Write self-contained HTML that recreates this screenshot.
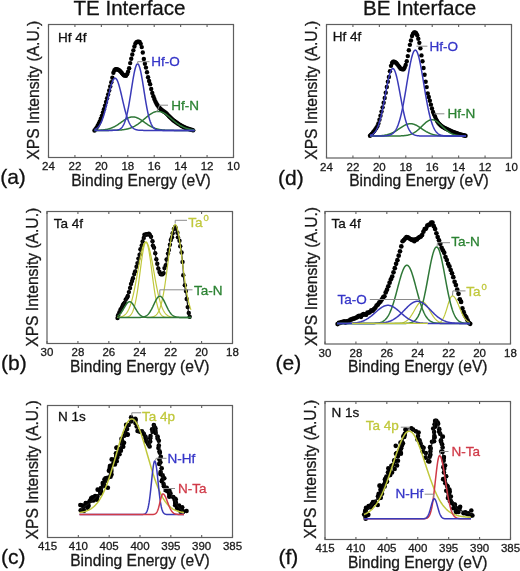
<!DOCTYPE html>
<html><head><meta charset="utf-8"><title>XPS TE/BE Interface</title>
<style>
html,body{margin:0;padding:0;background:#fff;}
body{width:520px;height:571px;overflow:hidden;}
svg{display:block;font-family:'Liberation Sans', Arial, sans-serif;}
</style></head><body>
<svg width="520" height="571" viewBox="0 0 520 571">
<rect width="520" height="571" fill="#fff"/>
<text x="73.4" y="15" font-size="20.6" fill="#111" stroke="#111" stroke-width="0.3" text-anchor="start">TE Interface</text>
<text x="363" y="15" font-size="20.6" fill="#111" stroke="#111" stroke-width="0.3" text-anchor="start">BE Interface</text>
<rect x="48.5" y="24.5" width="185" height="133" fill="none" stroke="#5e5e5e" stroke-width="1.2"/>
<line x1="48.5" y1="24.5" x2="48.5" y2="27" stroke="#5e5e5e" stroke-width="1.1"/>
<line x1="48.5" y1="157.5" x2="48.5" y2="155" stroke="#5e5e5e" stroke-width="1.1"/>
<text x="48.5" y="170.2" font-size="11.5" fill="#1a1a1a" stroke="#1a1a1a" stroke-width="0.3" text-anchor="middle">24</text>
<line x1="74.93" y1="24.5" x2="74.93" y2="27" stroke="#5e5e5e" stroke-width="1.1"/>
<line x1="74.93" y1="157.5" x2="74.93" y2="155" stroke="#5e5e5e" stroke-width="1.1"/>
<text x="74.93" y="170.2" font-size="11.5" fill="#1a1a1a" stroke="#1a1a1a" stroke-width="0.3" text-anchor="middle">22</text>
<line x1="101.36" y1="24.5" x2="101.36" y2="27" stroke="#5e5e5e" stroke-width="1.1"/>
<line x1="101.36" y1="157.5" x2="101.36" y2="155" stroke="#5e5e5e" stroke-width="1.1"/>
<text x="101.36" y="170.2" font-size="11.5" fill="#1a1a1a" stroke="#1a1a1a" stroke-width="0.3" text-anchor="middle">20</text>
<line x1="127.79" y1="24.5" x2="127.79" y2="27" stroke="#5e5e5e" stroke-width="1.1"/>
<line x1="127.79" y1="157.5" x2="127.79" y2="155" stroke="#5e5e5e" stroke-width="1.1"/>
<text x="127.79" y="170.2" font-size="11.5" fill="#1a1a1a" stroke="#1a1a1a" stroke-width="0.3" text-anchor="middle">18</text>
<line x1="154.21" y1="24.5" x2="154.21" y2="27" stroke="#5e5e5e" stroke-width="1.1"/>
<line x1="154.21" y1="157.5" x2="154.21" y2="155" stroke="#5e5e5e" stroke-width="1.1"/>
<text x="154.21" y="170.2" font-size="11.5" fill="#1a1a1a" stroke="#1a1a1a" stroke-width="0.3" text-anchor="middle">16</text>
<line x1="180.64" y1="24.5" x2="180.64" y2="27" stroke="#5e5e5e" stroke-width="1.1"/>
<line x1="180.64" y1="157.5" x2="180.64" y2="155" stroke="#5e5e5e" stroke-width="1.1"/>
<text x="180.64" y="170.2" font-size="11.5" fill="#1a1a1a" stroke="#1a1a1a" stroke-width="0.3" text-anchor="middle">14</text>
<line x1="207.07" y1="24.5" x2="207.07" y2="27" stroke="#5e5e5e" stroke-width="1.1"/>
<line x1="207.07" y1="157.5" x2="207.07" y2="155" stroke="#5e5e5e" stroke-width="1.1"/>
<text x="207.07" y="170.2" font-size="11.5" fill="#1a1a1a" stroke="#1a1a1a" stroke-width="0.3" text-anchor="middle">12</text>
<line x1="233.5" y1="24.5" x2="233.5" y2="27" stroke="#5e5e5e" stroke-width="1.1"/>
<line x1="233.5" y1="157.5" x2="233.5" y2="155" stroke="#5e5e5e" stroke-width="1.1"/>
<text x="233.5" y="170.2" font-size="11.5" fill="#1a1a1a" stroke="#1a1a1a" stroke-width="0.3" text-anchor="middle">10</text>
<text x="141" y="185.5" font-size="15.6" fill="#1a1a1a" stroke="#1a1a1a" stroke-width="0.3" text-anchor="middle">Binding Energy (eV)</text>
<text transform="translate(38.9,90.2) rotate(-90) scale(1,1.08)" font-size="15.65" fill="#1a1a1a" stroke="#1a1a1a" stroke-width="0.3" text-anchor="middle">XPS Intensity (A.U.)</text>
<text x="0.2" y="183.5" font-size="21" fill="#111" stroke="#111" stroke-width="0.3" text-anchor="start">(a)</text>
<text x="58" y="42" font-size="13.5" fill="#111" stroke="#111" stroke-width="0.3" text-anchor="start">Hf 4f</text>
<circle cx="94.5" cy="130.5" r="2.2"/>
<circle cx="95.55" cy="129.2" r="2.2"/>
<circle cx="96.6" cy="127.62" r="2.2"/>
<circle cx="97.65" cy="125.82" r="2.2"/>
<circle cx="98.7" cy="123.81" r="2.2"/>
<circle cx="99.75" cy="121.43" r="2.2"/>
<circle cx="100.8" cy="118.76" r="2.2"/>
<circle cx="101.85" cy="115.85" r="2.2"/>
<circle cx="102.9" cy="112.57" r="2.2"/>
<circle cx="103.95" cy="109.16" r="2.2"/>
<circle cx="105" cy="105.62" r="2.2"/>
<circle cx="106.05" cy="101.97" r="2.2"/>
<circle cx="107.1" cy="98.29" r="2.2"/>
<circle cx="108.15" cy="94.5" r="2.2"/>
<circle cx="109.2" cy="90.53" r="2.2"/>
<circle cx="110.25" cy="86.4" r="2.2"/>
<circle cx="111.3" cy="82.23" r="2.2"/>
<circle cx="112.35" cy="77.81" r="2.2"/>
<circle cx="113.4" cy="72.78" r="2.2"/>
<circle cx="114.45" cy="70.32" r="2.2"/>
<circle cx="115.5" cy="69.2" r="2.2"/>
<circle cx="116.55" cy="69.3" r="2.2"/>
<circle cx="117.6" cy="69.56" r="2.2"/>
<circle cx="118.65" cy="69.92" r="2.2"/>
<circle cx="119.7" cy="70.69" r="2.2"/>
<circle cx="120.75" cy="71.82" r="2.2"/>
<circle cx="121.8" cy="73" r="2.2"/>
<circle cx="122.85" cy="74.37" r="2.2"/>
<circle cx="123.9" cy="75.25" r="2.2"/>
<circle cx="124.95" cy="75.66" r="2.2"/>
<circle cx="126" cy="75.74" r="2.2"/>
<circle cx="127.05" cy="74.15" r="2.2"/>
<circle cx="128.1" cy="71.71" r="2.2"/>
<circle cx="129.15" cy="68.21" r="2.2"/>
<circle cx="130.2" cy="63.12" r="2.2"/>
<circle cx="131.25" cy="58.77" r="2.2"/>
<circle cx="132.3" cy="54.53" r="2.2"/>
<circle cx="133.35" cy="50.34" r="2.2"/>
<circle cx="134.4" cy="46.57" r="2.2"/>
<circle cx="135.45" cy="43.45" r="2.2"/>
<circle cx="136.5" cy="42.09" r="2.2"/>
<circle cx="137.55" cy="41.6" r="2.2"/>
<circle cx="138.6" cy="41.6" r="2.2"/>
<circle cx="139.65" cy="41.95" r="2.2"/>
<circle cx="140.7" cy="43.86" r="2.2"/>
<circle cx="141.75" cy="47.11" r="2.2"/>
<circle cx="142.8" cy="52.54" r="2.2"/>
<circle cx="143.85" cy="58.94" r="2.2"/>
<circle cx="144.9" cy="63.69" r="2.2"/>
<circle cx="145.95" cy="67.59" r="2.2"/>
<circle cx="147" cy="72.28" r="2.2"/>
<circle cx="148.05" cy="77.29" r="2.2"/>
<circle cx="149.1" cy="81" r="2.2"/>
<circle cx="150.15" cy="84.28" r="2.2"/>
<circle cx="151.2" cy="88.94" r="2.2"/>
<circle cx="152.25" cy="92.91" r="2.2"/>
<circle cx="153.3" cy="96.21" r="2.2"/>
<circle cx="154.35" cy="99.04" r="2.2"/>
<circle cx="155.4" cy="101.46" r="2.2"/>
<circle cx="156.45" cy="103.57" r="2.2"/>
<circle cx="157.5" cy="105.3" r="2.2"/>
<circle cx="158.55" cy="106.74" r="2.2"/>
<circle cx="159.6" cy="107.98" r="2.2"/>
<circle cx="160.65" cy="109.06" r="2.2"/>
<circle cx="161.7" cy="109.98" r="2.2"/>
<circle cx="162.75" cy="110.75" r="2.2"/>
<circle cx="163.8" cy="111.46" r="2.2"/>
<circle cx="164.85" cy="112.17" r="2.2"/>
<circle cx="165.9" cy="112.97" r="2.2"/>
<circle cx="166.95" cy="113.94" r="2.2"/>
<circle cx="168" cy="115.09" r="2.2"/>
<circle cx="169.05" cy="116.25" r="2.2"/>
<circle cx="170.1" cy="117.29" r="2.2"/>
<circle cx="171.15" cy="118.3" r="2.2"/>
<circle cx="172.2" cy="119.28" r="2.2"/>
<circle cx="173.25" cy="120.19" r="2.2"/>
<circle cx="174.3" cy="121.03" r="2.2"/>
<circle cx="175.35" cy="121.81" r="2.2"/>
<circle cx="176.4" cy="122.54" r="2.2"/>
<circle cx="177.45" cy="123.23" r="2.2"/>
<circle cx="178.5" cy="123.91" r="2.2"/>
<circle cx="179.55" cy="124.58" r="2.2"/>
<circle cx="180.6" cy="125.25" r="2.2"/>
<circle cx="181.65" cy="125.89" r="2.2"/>
<circle cx="182.7" cy="126.49" r="2.2"/>
<circle cx="183.75" cy="127.02" r="2.2"/>
<circle cx="184.8" cy="127.5" r="2.2"/>
<circle cx="185.85" cy="127.93" r="2.2"/>
<circle cx="186.9" cy="128.33" r="2.2"/>
<circle cx="187.95" cy="128.71" r="2.2"/>
<circle cx="189" cy="129.07" r="2.2"/>
<circle cx="190.05" cy="129.41" r="2.2"/>
<circle cx="191.1" cy="129.74" r="2.2"/>
<circle cx="192.15" cy="130.05" r="2.2"/>
<circle cx="193.2" cy="130.34" r="2.2"/>
<polyline points="94.5,130.35 94.92,130.34 95.34,130.33 95.76,130.32 96.17,130.32 96.59,130.31 97.01,130.29 97.43,130.28 97.85,130.27 98.27,130.25 98.68,130.23 99.1,130.22 99.52,130.19 99.94,130.17 100.36,130.15 100.78,130.12 101.19,130.09 101.61,130.06 102.03,130.02 102.45,129.99 102.87,129.94 103.29,129.9 103.71,129.85 104.12,129.8 104.54,129.74 104.96,129.68 105.38,129.61 105.8,129.54 106.22,129.47 106.63,129.39 107.05,129.3 107.47,129.21 107.89,129.11 108.31,129 108.73,128.89 109.14,128.77 109.56,128.65 109.98,128.51 110.4,128.37 110.82,128.23 111.24,128.07 111.65,127.91 112.07,127.74 112.49,127.56 112.91,127.37 113.33,127.18 113.75,126.98 114.17,126.77 114.58,126.55 115,126.32 115.42,126.09 115.84,125.85 116.26,125.6 116.68,125.35 117.09,125.09 117.51,124.82 117.93,124.55 118.35,124.27 118.77,123.99 119.19,123.7 119.6,123.41 120.02,123.12 120.44,122.82 120.86,122.53 121.28,122.23 121.7,121.93 122.12,121.63 122.53,121.34 122.95,121.04 123.37,120.75 123.79,120.47 124.21,120.19 124.63,119.91 125.04,119.65 125.46,119.39 125.88,119.14 126.3,118.89 126.72,118.66 127.14,118.44 127.55,118.23 127.97,118.04 128.39,117.86 128.81,117.69 129.23,117.54 129.65,117.4 130.06,117.28 130.48,117.17 130.9,117.08 131.32,117.01 131.74,116.96 132.16,116.92 132.58,116.9 132.99,116.9 133.41,116.92 133.83,116.95 134.25,117.01 134.67,117.08 135.09,117.16 135.5,117.27 135.92,117.39 136.34,117.53 136.76,117.68 137.18,117.84 137.6,118.02 138.01,118.22 138.43,118.43 138.85,118.65 139.27,118.88 139.69,119.12 140.11,119.37 140.53,119.63 140.94,119.89 141.36,120.17 141.78,120.45 142.2,120.73 142.62,121.02 143.04,121.32 143.45,121.61 143.87,121.91 144.29,122.21 144.71,122.5 145.13,122.8 145.55,123.1 145.96,123.39 146.38,123.68 146.8,123.97 147.22,124.25 147.64,124.53 148.06,124.8 148.47,125.07 148.89,125.33 149.31,125.58 149.73,125.83 150.15,126.07 150.57,126.31 150.99,126.53 151.4,126.75 151.82,126.96 152.24,127.17 152.66,127.36 153.08,127.55 153.5,127.73 153.91,127.9 154.33,128.06 154.75,128.22 155.17,128.36 155.59,128.5 156.01,128.64 156.42,128.76 156.84,128.88 157.26,128.99 157.68,129.1 158.1,129.2 158.52,129.29 158.94,129.38 159.35,129.46 159.77,129.54 160.19,129.61 160.61,129.67 161.03,129.74 161.45,129.79 161.86,129.85 162.28,129.9 162.7,129.94 163.12,129.98 163.54,130.02 163.96,130.06 164.37,130.09 164.79,130.12 165.21,130.15 165.63,130.17 166.05,130.19 166.47,130.21 166.88,130.23 167.3,130.25 167.72,130.27 168.14,130.28 168.56,130.29 168.98,130.3 169.4,130.31 169.81,130.32 170.23,130.33 170.65,130.34 171.07,130.35 171.49,130.35 171.91,130.36 172.32,130.36 172.74,130.37 173.16,130.37 173.58,130.37 174,130.38 174.42,130.38 174.83,130.38 175.25,130.39 175.67,130.39 176.09,130.39 176.51,130.39 176.93,130.39 177.35,130.39 177.76,130.39 178.18,130.39 178.6,130.4 179.02,130.4 179.44,130.4 179.86,130.4 180.27,130.4 180.69,130.4 181.11,130.4 181.53,130.4 181.95,130.4 182.37,130.4 182.78,130.4 183.2,130.4 183.62,130.4 184.04,130.4 184.46,130.4 184.88,130.4 185.29,130.4 185.71,130.4 186.13,130.4 186.55,130.4 186.97,130.4 187.39,130.4 187.81,130.4 188.22,130.4 188.64,130.4 189.06,130.4 189.48,130.4 189.9,130.4 190.32,130.4 190.73,130.4 191.15,130.4 191.57,130.4 191.99,130.4 192.41,130.4 192.83,130.4 193.24,130.4 193.66,130.4 194.08,130.4 194.5,130.4" fill="none" stroke="#2f7838" stroke-width="1.5" stroke-linejoin="round"/>
<polyline points="94.5,130.4 94.92,130.4 95.34,130.4 95.76,130.4 96.17,130.4 96.59,130.4 97.01,130.4 97.43,130.4 97.85,130.4 98.27,130.4 98.68,130.4 99.1,130.4 99.52,130.4 99.94,130.4 100.36,130.4 100.78,130.4 101.19,130.4 101.61,130.4 102.03,130.4 102.45,130.4 102.87,130.4 103.29,130.39 103.71,130.39 104.12,130.39 104.54,130.39 104.96,130.39 105.38,130.39 105.8,130.39 106.22,130.39 106.63,130.39 107.05,130.38 107.47,130.38 107.89,130.38 108.31,130.38 108.73,130.38 109.14,130.37 109.56,130.37 109.98,130.37 110.4,130.36 110.82,130.36 111.24,130.35 111.65,130.35 112.07,130.34 112.49,130.34 112.91,130.33 113.33,130.32 113.75,130.31 114.17,130.3 114.58,130.29 115,130.28 115.42,130.27 115.84,130.26 116.26,130.24 116.68,130.22 117.09,130.21 117.51,130.19 117.93,130.17 118.35,130.15 118.77,130.12 119.19,130.1 119.6,130.07 120.02,130.04 120.44,130 120.86,129.97 121.28,129.93 121.7,129.89 122.12,129.84 122.53,129.8 122.95,129.75 123.37,129.69 123.79,129.63 124.21,129.57 124.63,129.51 125.04,129.43 125.46,129.36 125.88,129.28 126.3,129.19 126.72,129.1 127.14,129.01 127.55,128.91 127.97,128.8 128.39,128.69 128.81,128.57 129.23,128.44 129.65,128.31 130.06,128.17 130.48,128.02 130.9,127.87 131.32,127.7 131.74,127.54 132.16,127.36 132.58,127.17 132.99,126.98 133.41,126.78 133.83,126.57 134.25,126.36 134.67,126.13 135.09,125.9 135.5,125.66 135.92,125.41 136.34,125.15 136.76,124.89 137.18,124.62 137.6,124.34 138.01,124.05 138.43,123.75 138.85,123.45 139.27,123.14 139.69,122.83 140.11,122.51 140.53,122.18 140.94,121.85 141.36,121.51 141.78,121.17 142.2,120.82 142.62,120.47 143.04,120.12 143.45,119.77 143.87,119.41 144.29,119.05 144.71,118.7 145.13,118.34 145.55,117.98 145.96,117.63 146.38,117.28 146.8,116.93 147.22,116.59 147.64,116.25 148.06,115.91 148.47,115.59 148.89,115.27 149.31,114.95 149.73,114.65 150.15,114.36 150.57,114.07 150.99,113.8 151.4,113.54 151.82,113.29 152.24,113.05 152.66,112.83 153.08,112.62 153.5,112.43 153.91,112.25 154.33,112.09 154.75,111.94 155.17,111.81 155.59,111.7 156.01,111.61 156.42,111.53 156.84,111.47 157.26,111.43 157.68,111.41 158.1,111.4 158.52,111.41 158.94,111.45 159.35,111.5 159.77,111.56 160.19,111.65 160.61,111.75 161.03,111.87 161.45,112.01 161.86,112.16 162.28,112.33 162.7,112.52 163.12,112.72 163.54,112.93 163.96,113.16 164.37,113.4 164.79,113.66 165.21,113.93 165.63,114.2 166.05,114.49 166.47,114.79 166.88,115.1 167.3,115.42 167.72,115.74 168.14,116.07 168.56,116.41 168.98,116.75 169.4,117.09 169.81,117.44 170.23,117.8 170.65,118.15 171.07,118.51 171.49,118.87 171.91,119.22 172.32,119.58 172.74,119.93 173.16,120.29 173.58,120.64 174,120.99 174.42,121.33 174.83,121.67 175.25,122 175.67,122.33 176.09,122.66 176.51,122.98 176.93,123.29 177.35,123.59 177.76,123.89 178.18,124.18 178.6,124.47 179.02,124.75 179.44,125.01 179.86,125.28 180.27,125.53 180.69,125.77 181.11,126.01 181.53,126.24 181.95,126.46 182.37,126.67 182.78,126.88 183.2,127.07 183.62,127.26 184.04,127.44 184.46,127.62 184.88,127.78 185.29,127.94 185.71,128.09 186.13,128.23 186.55,128.37 186.97,128.5 187.39,128.62 187.81,128.74 188.22,128.85 188.64,128.95 189.06,129.05 189.48,129.15 189.9,129.23 190.32,129.32 190.73,129.4 191.15,129.47 191.57,129.54 191.99,129.6 192.41,129.66 192.83,129.72 193.24,129.77 193.66,129.82 194.08,129.87 194.5,129.91" fill="none" stroke="#2f7838" stroke-width="1.5" stroke-linejoin="round"/>
<polyline points="94.5,129.53 94.92,129.37 95.34,129.19 95.76,128.99 96.17,128.75 96.59,128.48 97.01,128.18 97.43,127.83 97.85,127.44 98.27,127.01 98.68,126.52 99.1,125.98 99.52,125.38 99.94,124.71 100.36,123.98 100.78,123.18 101.19,122.31 101.61,121.37 102.03,120.35 102.45,119.25 102.87,118.07 103.29,116.81 103.71,115.48 104.12,114.07 104.54,112.59 104.96,111.04 105.38,109.42 105.8,107.75 106.22,106.02 106.63,104.25 107.05,102.45 107.47,100.62 107.89,98.79 108.31,96.95 108.73,95.12 109.14,93.32 109.56,91.56 109.98,89.86 110.4,88.22 110.82,86.66 111.24,85.2 111.65,83.85 112.07,82.61 112.49,81.52 112.91,80.56 113.33,79.76 113.75,79.11 114.17,78.64 114.58,78.33 115,78.2 115.42,78.25 115.84,78.47 116.26,78.87 116.68,79.44 117.09,80.16 117.51,81.05 117.93,82.08 118.35,83.25 118.77,84.55 119.19,85.96 119.6,87.48 120.02,89.08 120.44,90.76 120.86,92.49 121.28,94.28 121.7,96.09 122.12,97.93 122.53,99.77 122.95,101.6 123.37,103.41 123.79,105.2 124.21,106.94 124.63,108.64 125.04,110.29 125.46,111.87 125.88,113.39 126.3,114.83 126.72,116.2 127.14,117.49 127.55,118.71 127.97,119.84 128.39,120.9 128.81,121.88 129.23,122.79 129.65,123.62 130.06,124.38 130.48,125.07 130.9,125.7 131.32,126.27 131.74,126.79 132.16,127.25 132.58,127.66 132.99,128.02 133.41,128.34 133.83,128.63 134.25,128.88 134.67,129.1 135.09,129.29 135.5,129.46 135.92,129.6 136.34,129.73 136.76,129.83 137.18,129.93 137.6,130 138.01,130.07 138.43,130.13 138.85,130.17 139.27,130.21 139.69,130.25 140.11,130.27 140.53,130.3 140.94,130.32 141.36,130.33 141.78,130.35 142.2,130.36 142.62,130.36 143.04,130.37 143.45,130.38 143.87,130.38 144.29,130.39 144.71,130.39 145.13,130.39 145.55,130.39 145.96,130.39 146.38,130.4 146.8,130.4 147.22,130.4 147.64,130.4 148.06,130.4 148.47,130.4 148.89,130.4 149.31,130.4 149.73,130.4 150.15,130.4 150.57,130.4 150.99,130.4 151.4,130.4 151.82,130.4 152.24,130.4 152.66,130.4 153.08,130.4 153.5,130.4 153.91,130.4 154.33,130.4 154.75,130.4 155.17,130.4 155.59,130.4 156.01,130.4 156.42,130.4 156.84,130.4 157.26,130.4 157.68,130.4 158.1,130.4 158.52,130.4 158.94,130.4 159.35,130.4 159.77,130.4 160.19,130.4 160.61,130.4 161.03,130.4 161.45,130.4 161.86,130.4 162.28,130.4 162.7,130.4 163.12,130.4 163.54,130.4 163.96,130.4 164.37,130.4 164.79,130.4 165.21,130.4 165.63,130.4 166.05,130.4 166.47,130.4 166.88,130.4 167.3,130.4 167.72,130.4 168.14,130.4 168.56,130.4 168.98,130.4 169.4,130.4 169.81,130.4 170.23,130.4 170.65,130.4 171.07,130.4 171.49,130.4 171.91,130.4 172.32,130.4 172.74,130.4 173.16,130.4 173.58,130.4 174,130.4 174.42,130.4 174.83,130.4 175.25,130.4 175.67,130.4 176.09,130.4 176.51,130.4 176.93,130.4 177.35,130.4 177.76,130.4 178.18,130.4 178.6,130.4 179.02,130.4 179.44,130.4 179.86,130.4 180.27,130.4 180.69,130.4 181.11,130.4 181.53,130.4 181.95,130.4 182.37,130.4 182.78,130.4 183.2,130.4 183.62,130.4 184.04,130.4 184.46,130.4 184.88,130.4 185.29,130.4 185.71,130.4 186.13,130.4 186.55,130.4 186.97,130.4 187.39,130.4 187.81,130.4 188.22,130.4 188.64,130.4 189.06,130.4 189.48,130.4 189.9,130.4 190.32,130.4 190.73,130.4 191.15,130.4 191.57,130.4 191.99,130.4 192.41,130.4 192.83,130.4 193.24,130.4 193.66,130.4 194.08,130.4 194.5,130.4" fill="none" stroke="#3a3ab8" stroke-width="1.5" stroke-linejoin="round"/>
<polyline points="94.5,130.4 94.92,130.4 95.34,130.4 95.76,130.4 96.17,130.4 96.59,130.4 97.01,130.4 97.43,130.4 97.85,130.4 98.27,130.4 98.68,130.4 99.1,130.4 99.52,130.4 99.94,130.4 100.36,130.4 100.78,130.4 101.19,130.4 101.61,130.4 102.03,130.4 102.45,130.4 102.87,130.4 103.29,130.4 103.71,130.4 104.12,130.4 104.54,130.4 104.96,130.4 105.38,130.4 105.8,130.4 106.22,130.4 106.63,130.4 107.05,130.4 107.47,130.4 107.89,130.4 108.31,130.4 108.73,130.4 109.14,130.4 109.56,130.4 109.98,130.4 110.4,130.39 110.82,130.39 111.24,130.39 111.65,130.39 112.07,130.38 112.49,130.38 112.91,130.37 113.33,130.36 113.75,130.35 114.17,130.33 114.58,130.32 115,130.29 115.42,130.26 115.84,130.23 116.26,130.19 116.68,130.13 117.09,130.07 117.51,129.99 117.93,129.89 118.35,129.78 118.77,129.64 119.19,129.47 119.6,129.28 120.02,129.04 120.44,128.77 120.86,128.45 121.28,128.08 121.7,127.65 122.12,127.16 122.53,126.59 122.95,125.94 123.37,125.21 123.79,124.39 124.21,123.46 124.63,122.42 125.04,121.27 125.46,120.01 125.88,118.61 126.3,117.09 126.72,115.44 127.14,113.66 127.55,111.75 127.97,109.71 128.39,107.55 128.81,105.28 129.23,102.9 129.65,100.43 130.06,97.88 130.48,95.27 130.9,92.61 131.32,89.94 131.74,87.26 132.16,84.61 132.58,82.02 132.99,79.5 133.41,77.08 133.83,74.8 134.25,72.67 134.67,70.73 135.09,68.99 135.5,67.48 135.92,66.22 136.34,65.21 136.76,64.49 137.18,64.05 137.6,63.9 138.01,64.04 138.43,64.48 138.85,65.2 139.27,66.2 139.69,67.45 140.11,68.96 140.53,70.7 140.94,72.64 141.36,74.76 141.78,77.04 142.2,79.45 142.62,81.97 143.04,84.57 143.45,87.21 143.87,89.89 144.29,92.56 144.71,95.22 145.13,97.83 145.55,100.38 145.96,102.85 146.38,105.24 146.8,107.51 147.22,109.67 147.64,111.71 148.06,113.63 148.47,115.41 148.89,117.06 149.31,118.59 149.73,119.98 150.15,121.25 150.57,122.4 150.99,123.44 151.4,124.37 151.82,125.2 152.24,125.93 152.66,126.58 153.08,127.15 153.5,127.64 153.91,128.07 154.33,128.45 154.75,128.77 155.17,129.04 155.59,129.27 156.01,129.47 156.42,129.63 156.84,129.77 157.26,129.89 157.68,129.99 158.1,130.07 158.52,130.13 158.94,130.18 159.35,130.23 159.77,130.26 160.19,130.29 160.61,130.32 161.03,130.33 161.45,130.35 161.86,130.36 162.28,130.37 162.7,130.38 163.12,130.38 163.54,130.39 163.96,130.39 164.37,130.39 164.79,130.39 165.21,130.4 165.63,130.4 166.05,130.4 166.47,130.4 166.88,130.4 167.3,130.4 167.72,130.4 168.14,130.4 168.56,130.4 168.98,130.4 169.4,130.4 169.81,130.4 170.23,130.4 170.65,130.4 171.07,130.4 171.49,130.4 171.91,130.4 172.32,130.4 172.74,130.4 173.16,130.4 173.58,130.4 174,130.4 174.42,130.4 174.83,130.4 175.25,130.4 175.67,130.4 176.09,130.4 176.51,130.4 176.93,130.4 177.35,130.4 177.76,130.4 178.18,130.4 178.6,130.4 179.02,130.4 179.44,130.4 179.86,130.4 180.27,130.4 180.69,130.4 181.11,130.4 181.53,130.4 181.95,130.4 182.37,130.4 182.78,130.4 183.2,130.4 183.62,130.4 184.04,130.4 184.46,130.4 184.88,130.4 185.29,130.4 185.71,130.4 186.13,130.4 186.55,130.4 186.97,130.4 187.39,130.4 187.81,130.4 188.22,130.4 188.64,130.4 189.06,130.4 189.48,130.4 189.9,130.4 190.32,130.4 190.73,130.4 191.15,130.4 191.57,130.4 191.99,130.4 192.41,130.4 192.83,130.4 193.24,130.4 193.66,130.4 194.08,130.4 194.5,130.4" fill="none" stroke="#3a3ab8" stroke-width="1.5" stroke-linejoin="round"/>
<path d="M137.7,64 L137.7,61.7 L149.5,61.7" fill="none" stroke="#8a8a8a" stroke-width="1"/>
<text x="151.3" y="66.3" font-size="13.5" fill="#3535c8" stroke="#3535c8" stroke-width="0.3" text-anchor="start">Hf-O</text>
<path d="M156.8,112 L159.6,105.2 L168,105.2" fill="none" stroke="#8a8a8a" stroke-width="1"/>
<text x="171.2" y="110.2" font-size="13.5" fill="#2b8232" stroke="#2b8232" stroke-width="0.3" text-anchor="start">Hf-N</text>
<rect x="326.5" y="24.5" width="185" height="133.5" fill="none" stroke="#5e5e5e" stroke-width="1.2"/>
<line x1="326.5" y1="24.5" x2="326.5" y2="27" stroke="#5e5e5e" stroke-width="1.1"/>
<line x1="326.5" y1="158" x2="326.5" y2="155.5" stroke="#5e5e5e" stroke-width="1.1"/>
<text x="326.5" y="170.7" font-size="11.5" fill="#1a1a1a" stroke="#1a1a1a" stroke-width="0.3" text-anchor="middle">24</text>
<line x1="352.93" y1="24.5" x2="352.93" y2="27" stroke="#5e5e5e" stroke-width="1.1"/>
<line x1="352.93" y1="158" x2="352.93" y2="155.5" stroke="#5e5e5e" stroke-width="1.1"/>
<text x="352.93" y="170.7" font-size="11.5" fill="#1a1a1a" stroke="#1a1a1a" stroke-width="0.3" text-anchor="middle">22</text>
<line x1="379.36" y1="24.5" x2="379.36" y2="27" stroke="#5e5e5e" stroke-width="1.1"/>
<line x1="379.36" y1="158" x2="379.36" y2="155.5" stroke="#5e5e5e" stroke-width="1.1"/>
<text x="379.36" y="170.7" font-size="11.5" fill="#1a1a1a" stroke="#1a1a1a" stroke-width="0.3" text-anchor="middle">20</text>
<line x1="405.79" y1="24.5" x2="405.79" y2="27" stroke="#5e5e5e" stroke-width="1.1"/>
<line x1="405.79" y1="158" x2="405.79" y2="155.5" stroke="#5e5e5e" stroke-width="1.1"/>
<text x="405.79" y="170.7" font-size="11.5" fill="#1a1a1a" stroke="#1a1a1a" stroke-width="0.3" text-anchor="middle">18</text>
<line x1="432.21" y1="24.5" x2="432.21" y2="27" stroke="#5e5e5e" stroke-width="1.1"/>
<line x1="432.21" y1="158" x2="432.21" y2="155.5" stroke="#5e5e5e" stroke-width="1.1"/>
<text x="432.21" y="170.7" font-size="11.5" fill="#1a1a1a" stroke="#1a1a1a" stroke-width="0.3" text-anchor="middle">16</text>
<line x1="458.64" y1="24.5" x2="458.64" y2="27" stroke="#5e5e5e" stroke-width="1.1"/>
<line x1="458.64" y1="158" x2="458.64" y2="155.5" stroke="#5e5e5e" stroke-width="1.1"/>
<text x="458.64" y="170.7" font-size="11.5" fill="#1a1a1a" stroke="#1a1a1a" stroke-width="0.3" text-anchor="middle">14</text>
<line x1="485.07" y1="24.5" x2="485.07" y2="27" stroke="#5e5e5e" stroke-width="1.1"/>
<line x1="485.07" y1="158" x2="485.07" y2="155.5" stroke="#5e5e5e" stroke-width="1.1"/>
<text x="485.07" y="170.7" font-size="11.5" fill="#1a1a1a" stroke="#1a1a1a" stroke-width="0.3" text-anchor="middle">12</text>
<line x1="511.5" y1="24.5" x2="511.5" y2="27" stroke="#5e5e5e" stroke-width="1.1"/>
<line x1="511.5" y1="158" x2="511.5" y2="155.5" stroke="#5e5e5e" stroke-width="1.1"/>
<text x="511.5" y="170.7" font-size="11.5" fill="#1a1a1a" stroke="#1a1a1a" stroke-width="0.3" text-anchor="middle">10</text>
<text x="419" y="186" font-size="15.6" fill="#1a1a1a" stroke="#1a1a1a" stroke-width="0.3" text-anchor="middle">Binding Energy (eV)</text>
<text transform="translate(317.2,90.3) rotate(-90) scale(1,1.08)" font-size="15.65" fill="#1a1a1a" stroke="#1a1a1a" stroke-width="0.3" text-anchor="middle">XPS Intensity (A.U.)</text>
<text x="278" y="185.2" font-size="21" fill="#111" stroke="#111" stroke-width="0.3" text-anchor="start">(d)</text>
<text x="332.8" y="40.9" font-size="13.5" fill="#111" stroke="#111" stroke-width="0.3" text-anchor="start">Hf 4f</text>
<circle cx="370" cy="135.8" r="2.2"/>
<circle cx="371.05" cy="134.76" r="2.2"/>
<circle cx="372.1" cy="133.58" r="2.2"/>
<circle cx="373.15" cy="132.3" r="2.2"/>
<circle cx="374.2" cy="130.93" r="2.2"/>
<circle cx="375.25" cy="129.49" r="2.2"/>
<circle cx="376.3" cy="128.02" r="2.2"/>
<circle cx="377.35" cy="126.22" r="2.2"/>
<circle cx="378.4" cy="123.5" r="2.2"/>
<circle cx="379.45" cy="119.67" r="2.2"/>
<circle cx="380.5" cy="115.63" r="2.2"/>
<circle cx="381.55" cy="111.6" r="2.2"/>
<circle cx="382.6" cy="107.35" r="2.2"/>
<circle cx="383.65" cy="102.82" r="2.2"/>
<circle cx="384.7" cy="97.94" r="2.2"/>
<circle cx="385.75" cy="92.67" r="2.2"/>
<circle cx="386.8" cy="86.93" r="2.2"/>
<circle cx="387.85" cy="81.65" r="2.2"/>
<circle cx="388.9" cy="76.93" r="2.2"/>
<circle cx="389.95" cy="71.25" r="2.2"/>
<circle cx="391" cy="65.87" r="2.2"/>
<circle cx="392.05" cy="62.99" r="2.2"/>
<circle cx="393.1" cy="61.61" r="2.2"/>
<circle cx="394.15" cy="61.78" r="2.2"/>
<circle cx="395.2" cy="62.28" r="2.2"/>
<circle cx="396.25" cy="62.96" r="2.2"/>
<circle cx="397.3" cy="64.2" r="2.2"/>
<circle cx="398.35" cy="65.62" r="2.2"/>
<circle cx="399.4" cy="67.05" r="2.2"/>
<circle cx="400.45" cy="68.45" r="2.2"/>
<circle cx="401.5" cy="69.02" r="2.2"/>
<circle cx="402.55" cy="69.24" r="2.2"/>
<circle cx="403.6" cy="69.19" r="2.2"/>
<circle cx="404.65" cy="67.46" r="2.2"/>
<circle cx="405.7" cy="64.88" r="2.2"/>
<circle cx="406.75" cy="61.2" r="2.2"/>
<circle cx="407.8" cy="56.09" r="2.2"/>
<circle cx="408.85" cy="50.28" r="2.2"/>
<circle cx="409.9" cy="44.85" r="2.2"/>
<circle cx="410.95" cy="40.43" r="2.2"/>
<circle cx="412" cy="35.95" r="2.2"/>
<circle cx="413.05" cy="33.79" r="2.2"/>
<circle cx="414.1" cy="32.55" r="2.2"/>
<circle cx="415.15" cy="32.4" r="2.2"/>
<circle cx="416.2" cy="33.2" r="2.2"/>
<circle cx="417.25" cy="35.17" r="2.2"/>
<circle cx="418.3" cy="38.77" r="2.2"/>
<circle cx="419.35" cy="42.87" r="2.2"/>
<circle cx="420.4" cy="48.22" r="2.2"/>
<circle cx="421.45" cy="55.41" r="2.2"/>
<circle cx="422.5" cy="61.28" r="2.2"/>
<circle cx="423.55" cy="68" r="2.2"/>
<circle cx="424.6" cy="74.78" r="2.2"/>
<circle cx="425.65" cy="81.72" r="2.2"/>
<circle cx="426.7" cy="87.11" r="2.2"/>
<circle cx="427.75" cy="93.41" r="2.2"/>
<circle cx="428.8" cy="96.93" r="2.2"/>
<circle cx="429.85" cy="100.74" r="2.2"/>
<circle cx="430.9" cy="104.67" r="2.2"/>
<circle cx="431.95" cy="108.47" r="2.2"/>
<circle cx="433" cy="111.94" r="2.2"/>
<circle cx="434.05" cy="114.5" r="2.2"/>
<circle cx="435.1" cy="116.72" r="2.2"/>
<circle cx="436.15" cy="119.16" r="2.2"/>
<circle cx="437.2" cy="121.2" r="2.2"/>
<circle cx="438.25" cy="122.65" r="2.2"/>
<circle cx="439.3" cy="123.9" r="2.2"/>
<circle cx="440.35" cy="124.97" r="2.2"/>
<circle cx="441.4" cy="125.89" r="2.2"/>
<circle cx="442.45" cy="126.68" r="2.2"/>
<circle cx="443.5" cy="127.37" r="2.2"/>
<circle cx="444.55" cy="127.99" r="2.2"/>
<circle cx="445.6" cy="128.55" r="2.2"/>
<circle cx="446.65" cy="129.07" r="2.2"/>
<circle cx="447.7" cy="129.55" r="2.2"/>
<circle cx="448.75" cy="130.02" r="2.2"/>
<circle cx="449.8" cy="130.48" r="2.2"/>
<circle cx="450.85" cy="130.94" r="2.2"/>
<circle cx="451.9" cy="131.39" r="2.2"/>
<circle cx="452.95" cy="131.83" r="2.2"/>
<circle cx="454" cy="132.26" r="2.2"/>
<circle cx="455.05" cy="132.66" r="2.2"/>
<circle cx="456.1" cy="133.05" r="2.2"/>
<circle cx="457.15" cy="133.42" r="2.2"/>
<circle cx="458.2" cy="133.77" r="2.2"/>
<circle cx="459.25" cy="134.1" r="2.2"/>
<circle cx="460.3" cy="134.42" r="2.2"/>
<circle cx="461.35" cy="134.73" r="2.2"/>
<circle cx="462.4" cy="135.02" r="2.2"/>
<circle cx="463.45" cy="135.3" r="2.2"/>
<circle cx="464.5" cy="135.56" r="2.2"/>
<circle cx="465.55" cy="135.8" r="2.2"/>
<polyline points="370,135.99 370.4,135.98 370.8,135.98 371.21,135.98 371.61,135.98 372.01,135.97 372.41,135.97 372.81,135.97 373.21,135.96 373.62,135.96 374.02,135.95 374.42,135.94 374.82,135.94 375.22,135.93 375.62,135.92 376.03,135.91 376.43,135.9 376.83,135.89 377.23,135.87 377.63,135.86 378.03,135.84 378.44,135.82 378.84,135.8 379.24,135.78 379.64,135.76 380.04,135.73 380.44,135.71 380.85,135.68 381.25,135.64 381.65,135.61 382.05,135.57 382.45,135.52 382.85,135.48 383.26,135.43 383.66,135.37 384.06,135.32 384.46,135.25 384.86,135.19 385.26,135.11 385.67,135.04 386.07,134.96 386.47,134.87 386.87,134.78 387.27,134.68 387.67,134.57 388.08,134.46 388.48,134.34 388.88,134.22 389.28,134.09 389.68,133.95 390.08,133.8 390.49,133.65 390.89,133.49 391.29,133.32 391.69,133.15 392.09,132.97 392.49,132.78 392.9,132.58 393.3,132.38 393.7,132.17 394.1,131.95 394.5,131.73 394.9,131.5 395.31,131.26 395.71,131.02 396.11,130.77 396.51,130.52 396.91,130.26 397.31,130 397.72,129.74 398.12,129.47 398.52,129.2 398.92,128.93 399.32,128.66 399.72,128.39 400.13,128.12 400.53,127.85 400.93,127.58 401.33,127.31 401.73,127.05 402.13,126.79 402.54,126.54 402.94,126.29 403.34,126.05 403.74,125.82 404.14,125.59 404.54,125.38 404.95,125.17 405.35,124.98 405.75,124.8 406.15,124.62 406.55,124.47 406.95,124.32 407.36,124.19 407.76,124.08 408.16,123.98 408.56,123.89 408.96,123.82 409.36,123.77 409.77,123.73 410.17,123.71 410.57,123.7 410.97,123.71 411.37,123.74 411.77,123.78 412.18,123.84 412.58,123.92 412.98,124.01 413.38,124.11 413.78,124.24 414.18,124.37 414.59,124.52 414.99,124.68 415.39,124.86 415.79,125.04 416.19,125.24 416.59,125.45 417,125.67 417.4,125.9 417.8,126.13 418.2,126.37 418.6,126.62 419,126.88 419.41,127.14 419.81,127.4 420.21,127.67 420.61,127.94 421.01,128.21 421.41,128.48 421.82,128.75 422.22,129.03 422.62,129.3 423.02,129.56 423.42,129.83 423.82,130.09 424.23,130.35 424.63,130.61 425.03,130.86 425.43,131.1 425.83,131.34 426.23,131.58 426.64,131.81 427.04,132.03 427.44,132.24 427.84,132.45 428.24,132.65 428.64,132.84 429.05,133.03 429.45,133.21 429.85,133.38 430.25,133.55 430.65,133.7 431.05,133.85 431.46,134 431.86,134.13 432.26,134.26 432.66,134.38 433.06,134.5 433.46,134.61 433.87,134.71 434.27,134.81 434.67,134.9 435.07,134.99 435.47,135.07 435.87,135.14 436.28,135.21 436.68,135.28 437.08,135.34 437.48,135.39 437.88,135.45 438.28,135.49 438.69,135.54 439.09,135.58 439.49,135.62 439.89,135.65 440.29,135.69 440.69,135.72 441.1,135.74 441.5,135.77 441.9,135.79 442.3,135.81 442.7,135.83 443.1,135.85 443.51,135.86 443.91,135.88 444.31,135.89 444.71,135.9 445.11,135.91 445.51,135.92 445.92,135.93 446.32,135.94 446.72,135.95 447.12,135.95 447.52,135.96 447.92,135.96 448.33,135.97 448.73,135.97 449.13,135.97 449.53,135.98 449.93,135.98 450.33,135.98 450.74,135.98 451.14,135.99 451.54,135.99 451.94,135.99 452.34,135.99 452.74,135.99 453.15,135.99 453.55,135.99 453.95,135.99 454.35,136 454.75,136 455.15,136 455.56,136 455.96,136 456.36,136 456.76,136 457.16,136 457.56,136 457.97,136 458.37,136 458.77,136 459.17,136 459.57,136 459.97,136 460.38,136 460.78,136 461.18,136 461.58,136 461.98,136 462.38,136 462.79,136 463.19,136 463.59,136 463.99,136 464.39,136 464.79,136 465.2,136 465.6,136 466,136" fill="none" stroke="#2f7838" stroke-width="1.5" stroke-linejoin="round"/>
<polyline points="370,136 370.4,136 370.8,136 371.21,136 371.61,136 372.01,136 372.41,136 372.81,136 373.21,136 373.62,136 374.02,136 374.42,136 374.82,136 375.22,136 375.62,136 376.03,136 376.43,136 376.83,136 377.23,136 377.63,136 378.03,136 378.44,136 378.84,136 379.24,136 379.64,136 380.04,136 380.44,136 380.85,136 381.25,136 381.65,136 382.05,136 382.45,136 382.85,136 383.26,136 383.66,136 384.06,136 384.46,136 384.86,136 385.26,136 385.67,136 386.07,136 386.47,136 386.87,136 387.27,136 387.67,136 388.08,136 388.48,136 388.88,136 389.28,136 389.68,136 390.08,136 390.49,136 390.89,136 391.29,136 391.69,136 392.09,135.99 392.49,135.99 392.9,135.99 393.3,135.99 393.7,135.99 394.1,135.99 394.5,135.99 394.9,135.98 395.31,135.98 395.71,135.98 396.11,135.97 396.51,135.97 396.91,135.97 397.31,135.96 397.72,135.95 398.12,135.95 398.52,135.94 398.92,135.93 399.32,135.92 399.72,135.91 400.13,135.9 400.53,135.88 400.93,135.87 401.33,135.85 401.73,135.83 402.13,135.81 402.54,135.79 402.94,135.76 403.34,135.73 403.74,135.7 404.14,135.66 404.54,135.62 404.95,135.58 405.35,135.53 405.75,135.48 406.15,135.42 406.55,135.36 406.95,135.29 407.36,135.22 407.76,135.14 408.16,135.05 408.56,134.95 408.96,134.85 409.36,134.74 409.77,134.62 410.17,134.5 410.57,134.36 410.97,134.21 411.37,134.06 411.77,133.89 412.18,133.72 412.58,133.53 412.98,133.33 413.38,133.12 413.78,132.9 414.18,132.67 414.59,132.42 414.99,132.17 415.39,131.9 415.79,131.62 416.19,131.33 416.59,131.02 417,130.71 417.4,130.39 417.8,130.05 418.2,129.71 418.6,129.36 419,128.99 419.41,128.62 419.81,128.25 420.21,127.87 420.61,127.48 421.01,127.09 421.41,126.69 421.82,126.3 422.22,125.9 422.62,125.5 423.02,125.11 423.42,124.72 423.82,124.33 424.23,123.95 424.63,123.58 425.03,123.22 425.43,122.86 425.83,122.52 426.23,122.2 426.64,121.88 427.04,121.59 427.44,121.31 427.84,121.05 428.24,120.81 428.64,120.59 429.05,120.4 429.45,120.22 429.85,120.07 430.25,119.95 430.65,119.85 431.05,119.77 431.46,119.72 431.86,119.7 432.26,119.71 432.66,119.74 433.06,119.79 433.46,119.87 433.87,119.98 434.27,120.11 434.67,120.27 435.07,120.45 435.47,120.65 435.87,120.88 436.28,121.12 436.68,121.39 437.08,121.67 437.48,121.97 437.88,122.29 438.28,122.62 438.69,122.96 439.09,123.32 439.49,123.69 439.89,124.06 440.29,124.44 440.69,124.83 441.1,125.22 441.5,125.62 441.9,126.01 442.3,126.41 442.7,126.81 443.1,127.2 443.51,127.59 443.91,127.98 444.31,128.36 444.71,128.73 445.11,129.1 445.51,129.46 445.92,129.81 446.32,130.15 446.72,130.48 447.12,130.8 447.52,131.11 447.92,131.41 448.33,131.7 448.73,131.98 449.13,132.24 449.53,132.49 449.93,132.74 450.33,132.96 450.74,133.18 451.14,133.39 451.54,133.58 451.94,133.77 452.34,133.94 452.74,134.1 453.15,134.26 453.55,134.4 453.95,134.53 454.35,134.66 454.75,134.78 455.15,134.88 455.56,134.98 455.96,135.08 456.36,135.16 456.76,135.24 457.16,135.31 457.56,135.38 457.97,135.44 458.37,135.5 458.77,135.55 459.17,135.59 459.57,135.64 459.97,135.67 460.38,135.71 460.78,135.74 461.18,135.77 461.58,135.79 461.98,135.82 462.38,135.84 462.79,135.86 463.19,135.87 463.59,135.89 463.99,135.9 464.39,135.91 464.79,135.92 465.2,135.93 465.6,135.94 466,135.95" fill="none" stroke="#2f7838" stroke-width="1.5" stroke-linejoin="round"/>
<polyline points="370,135.34 370.4,135.22 370.8,135.08 371.21,134.93 371.61,134.75 372.01,134.55 372.41,134.32 372.81,134.06 373.21,133.77 373.62,133.44 374.02,133.07 374.42,132.65 374.82,132.19 375.22,131.67 375.62,131.1 376.03,130.47 376.43,129.77 376.83,129.01 377.23,128.18 377.63,127.27 378.03,126.28 378.44,125.22 378.84,124.07 379.24,122.84 379.64,121.52 380.04,120.12 380.44,118.63 380.85,117.05 381.25,115.39 381.65,113.65 382.05,111.83 382.45,109.94 382.85,107.99 383.26,105.97 383.66,103.89 384.06,101.78 384.46,99.62 384.86,97.45 385.26,95.26 385.67,93.07 386.07,90.89 386.47,88.73 386.87,86.62 387.27,84.56 387.67,82.56 388.08,80.65 388.48,78.83 388.88,77.12 389.28,75.54 389.68,74.09 390.08,72.78 390.49,71.64 390.89,70.66 391.29,69.86 391.69,69.23 392.09,68.8 392.49,68.56 392.9,68.51 393.3,68.65 393.7,68.98 394.1,69.51 394.5,70.22 394.9,71.1 395.31,72.16 395.71,73.38 396.11,74.76 396.51,76.28 396.91,77.92 397.31,79.68 397.72,81.55 398.12,83.5 398.52,85.53 398.92,87.62 399.32,89.75 399.72,91.92 400.13,94.11 400.53,96.3 400.93,98.48 401.33,100.65 401.73,102.79 402.13,104.88 402.54,106.93 402.94,108.92 403.34,110.85 403.74,112.71 404.14,114.49 404.54,116.19 404.95,117.81 405.35,119.34 405.75,120.79 406.15,122.16 406.55,123.43 406.95,124.63 407.36,125.73 407.76,126.76 408.16,127.71 408.56,128.58 408.96,129.38 409.36,130.11 409.77,130.77 410.17,131.38 410.57,131.92 410.97,132.41 411.37,132.85 411.77,133.25 412.18,133.6 412.58,133.91 412.98,134.19 413.38,134.44 413.78,134.65 414.18,134.84 414.59,135.01 414.99,135.15 415.39,135.28 415.79,135.39 416.19,135.48 416.59,135.56 417,135.63 417.4,135.69 417.8,135.74 418.2,135.78 418.6,135.82 419,135.85 419.41,135.88 419.81,135.9 420.21,135.92 420.61,135.93 421.01,135.94 421.41,135.95 421.82,135.96 422.22,135.97 422.62,135.98 423.02,135.98 423.42,135.98 423.82,135.99 424.23,135.99 424.63,135.99 425.03,135.99 425.43,135.99 425.83,136 426.23,136 426.64,136 427.04,136 427.44,136 427.84,136 428.24,136 428.64,136 429.05,136 429.45,136 429.85,136 430.25,136 430.65,136 431.05,136 431.46,136 431.86,136 432.26,136 432.66,136 433.06,136 433.46,136 433.87,136 434.27,136 434.67,136 435.07,136 435.47,136 435.87,136 436.28,136 436.68,136 437.08,136 437.48,136 437.88,136 438.28,136 438.69,136 439.09,136 439.49,136 439.89,136 440.29,136 440.69,136 441.1,136 441.5,136 441.9,136 442.3,136 442.7,136 443.1,136 443.51,136 443.91,136 444.31,136 444.71,136 445.11,136 445.51,136 445.92,136 446.32,136 446.72,136 447.12,136 447.52,136 447.92,136 448.33,136 448.73,136 449.13,136 449.53,136 449.93,136 450.33,136 450.74,136 451.14,136 451.54,136 451.94,136 452.34,136 452.74,136 453.15,136 453.55,136 453.95,136 454.35,136 454.75,136 455.15,136 455.56,136 455.96,136 456.36,136 456.76,136 457.16,136 457.56,136 457.97,136 458.37,136 458.77,136 459.17,136 459.57,136 459.97,136 460.38,136 460.78,136 461.18,136 461.58,136 461.98,136 462.38,136 462.79,136 463.19,136 463.59,136 463.99,136 464.39,136 464.79,136 465.2,136 465.6,136 466,136" fill="none" stroke="#3a3ab8" stroke-width="1.5" stroke-linejoin="round"/>
<polyline points="370,136 370.4,136 370.8,136 371.21,136 371.61,136 372.01,136 372.41,136 372.81,136 373.21,136 373.62,136 374.02,136 374.42,136 374.82,136 375.22,136 375.62,136 376.03,136 376.43,136 376.83,136 377.23,136 377.63,136 378.03,135.99 378.44,135.99 378.84,135.99 379.24,135.99 379.64,135.99 380.04,135.98 380.44,135.98 380.85,135.98 381.25,135.97 381.65,135.97 382.05,135.96 382.45,135.95 382.85,135.94 383.26,135.93 383.66,135.92 384.06,135.9 384.46,135.88 384.86,135.86 385.26,135.83 385.67,135.8 386.07,135.77 386.47,135.73 386.87,135.68 387.27,135.63 387.67,135.56 388.08,135.49 388.48,135.41 388.88,135.31 389.28,135.21 389.68,135.08 390.08,134.95 390.49,134.79 390.89,134.61 391.29,134.41 391.69,134.19 392.09,133.93 392.49,133.65 392.9,133.34 393.3,132.99 393.7,132.6 394.1,132.17 394.5,131.7 394.9,131.17 395.31,130.6 395.71,129.97 396.11,129.28 396.51,128.54 396.91,127.72 397.31,126.84 397.72,125.89 398.12,124.87 398.52,123.76 398.92,122.58 399.32,121.32 399.72,119.97 400.13,118.54 400.53,117.03 400.93,115.43 401.33,113.74 401.73,111.97 402.13,110.12 402.54,108.18 402.94,106.17 403.34,104.08 403.74,101.93 404.14,99.71 404.54,97.43 404.95,95.1 405.35,92.72 405.75,90.31 406.15,87.87 406.55,85.42 406.95,82.96 407.36,80.5 407.76,78.06 408.16,75.64 408.56,73.27 408.96,70.95 409.36,68.69 409.77,66.51 410.17,64.42 410.57,62.43 410.97,60.55 411.37,58.8 411.77,57.18 412.18,55.71 412.58,54.4 412.98,53.24 413.38,52.26 413.78,51.46 414.18,50.84 414.59,50.4 414.99,50.16 415.39,50.1 415.79,50.24 416.19,50.57 416.59,51.09 417,51.79 417.4,52.68 417.8,53.73 418.2,54.96 418.6,56.34 419,57.88 419.41,59.56 419.81,61.37 420.21,63.3 420.61,65.33 421.01,67.46 421.41,69.68 421.82,71.97 422.22,74.32 422.62,76.71 423.02,79.14 423.42,81.59 423.82,84.05 424.23,86.51 424.63,88.96 425.03,91.38 425.43,93.78 425.83,96.14 426.23,98.45 426.64,100.7 427.04,102.89 427.44,105.02 427.84,107.07 428.24,109.05 428.64,110.95 429.05,112.77 429.45,114.5 429.85,116.15 430.25,117.71 430.65,119.19 431.05,120.58 431.46,121.89 431.86,123.12 432.26,124.26 432.66,125.33 433.06,126.32 433.46,127.24 433.87,128.09 434.27,128.88 434.67,129.6 435.07,130.26 435.47,130.86 435.87,131.41 436.28,131.91 436.68,132.37 437.08,132.78 437.48,133.15 437.88,133.48 438.28,133.78 438.69,134.05 439.09,134.29 439.49,134.5 439.89,134.69 440.29,134.86 440.69,135.01 441.1,135.14 441.5,135.26 441.9,135.36 442.3,135.45 442.7,135.52 443.1,135.59 443.51,135.65 443.91,135.7 444.31,135.75 444.71,135.78 445.11,135.82 445.51,135.85 445.92,135.87 446.32,135.89 446.72,135.91 447.12,135.92 447.52,135.93 447.92,135.95 448.33,135.95 448.73,135.96 449.13,135.97 449.53,135.97 449.93,135.98 450.33,135.98 450.74,135.99 451.14,135.99 451.54,135.99 451.94,135.99 452.34,135.99 452.74,135.99 453.15,136 453.55,136 453.95,136 454.35,136 454.75,136 455.15,136 455.56,136 455.96,136 456.36,136 456.76,136 457.16,136 457.56,136 457.97,136 458.37,136 458.77,136 459.17,136 459.57,136 459.97,136 460.38,136 460.78,136 461.18,136 461.58,136 461.98,136 462.38,136 462.79,136 463.19,136 463.59,136 463.99,136 464.39,136 464.79,136 465.2,136 465.6,136 466,136" fill="none" stroke="#3a3ab8" stroke-width="1.5" stroke-linejoin="round"/>
<path d="M416.5,46.2 L427.4,46.2" fill="none" stroke="#8a8a8a" stroke-width="1"/>
<text x="429.4" y="50.8" font-size="13.5" fill="#3535c8" stroke="#3535c8" stroke-width="0.3" text-anchor="start">Hf-O</text>
<path d="M434,113.8 L444.4,113.8" fill="none" stroke="#8a8a8a" stroke-width="1"/>
<text x="447.6" y="117.6" font-size="13.5" fill="#2b8232" stroke="#2b8232" stroke-width="0.3" text-anchor="start">Hf-N</text>
<rect x="47" y="211.5" width="185.5" height="132" fill="none" stroke="#5e5e5e" stroke-width="1.2"/>
<line x1="47" y1="211.5" x2="47" y2="214" stroke="#5e5e5e" stroke-width="1.1"/>
<line x1="47" y1="343.5" x2="47" y2="341" stroke="#5e5e5e" stroke-width="1.1"/>
<text x="47" y="356.2" font-size="11.5" fill="#1a1a1a" stroke="#1a1a1a" stroke-width="0.3" text-anchor="middle">30</text>
<line x1="77.92" y1="211.5" x2="77.92" y2="214" stroke="#5e5e5e" stroke-width="1.1"/>
<line x1="77.92" y1="343.5" x2="77.92" y2="341" stroke="#5e5e5e" stroke-width="1.1"/>
<text x="77.92" y="356.2" font-size="11.5" fill="#1a1a1a" stroke="#1a1a1a" stroke-width="0.3" text-anchor="middle">28</text>
<line x1="108.83" y1="211.5" x2="108.83" y2="214" stroke="#5e5e5e" stroke-width="1.1"/>
<line x1="108.83" y1="343.5" x2="108.83" y2="341" stroke="#5e5e5e" stroke-width="1.1"/>
<text x="108.83" y="356.2" font-size="11.5" fill="#1a1a1a" stroke="#1a1a1a" stroke-width="0.3" text-anchor="middle">26</text>
<line x1="139.75" y1="211.5" x2="139.75" y2="214" stroke="#5e5e5e" stroke-width="1.1"/>
<line x1="139.75" y1="343.5" x2="139.75" y2="341" stroke="#5e5e5e" stroke-width="1.1"/>
<text x="139.75" y="356.2" font-size="11.5" fill="#1a1a1a" stroke="#1a1a1a" stroke-width="0.3" text-anchor="middle">24</text>
<line x1="170.67" y1="211.5" x2="170.67" y2="214" stroke="#5e5e5e" stroke-width="1.1"/>
<line x1="170.67" y1="343.5" x2="170.67" y2="341" stroke="#5e5e5e" stroke-width="1.1"/>
<text x="170.67" y="356.2" font-size="11.5" fill="#1a1a1a" stroke="#1a1a1a" stroke-width="0.3" text-anchor="middle">22</text>
<line x1="201.58" y1="211.5" x2="201.58" y2="214" stroke="#5e5e5e" stroke-width="1.1"/>
<line x1="201.58" y1="343.5" x2="201.58" y2="341" stroke="#5e5e5e" stroke-width="1.1"/>
<text x="201.58" y="356.2" font-size="11.5" fill="#1a1a1a" stroke="#1a1a1a" stroke-width="0.3" text-anchor="middle">20</text>
<line x1="232.5" y1="211.5" x2="232.5" y2="214" stroke="#5e5e5e" stroke-width="1.1"/>
<line x1="232.5" y1="343.5" x2="232.5" y2="341" stroke="#5e5e5e" stroke-width="1.1"/>
<text x="232.5" y="356.2" font-size="11.5" fill="#1a1a1a" stroke="#1a1a1a" stroke-width="0.3" text-anchor="middle">18</text>
<text x="139.75" y="371.5" font-size="15.6" fill="#1a1a1a" stroke="#1a1a1a" stroke-width="0.3" text-anchor="middle">Binding Energy (eV)</text>
<text transform="translate(38.3,277.3) rotate(-90) scale(1,1.08)" font-size="15.65" fill="#1a1a1a" stroke="#1a1a1a" stroke-width="0.3" text-anchor="middle">XPS Intensity (A.U.)</text>
<text x="1" y="370" font-size="21" fill="#111" stroke="#111" stroke-width="0.3" text-anchor="start">(b)</text>
<text x="53.8" y="227.7" font-size="13.5" fill="#111" stroke="#111" stroke-width="0.3" text-anchor="start">Ta 4f</text>
<circle cx="117.53" cy="318" r="2.2"/>
<circle cx="118.05" cy="315.3" r="2.2"/>
<circle cx="119.41" cy="312.31" r="2.2"/>
<circle cx="120.53" cy="309.56" r="2.2"/>
<circle cx="121.85" cy="307.69" r="2.2"/>
<circle cx="122.79" cy="305.31" r="2.2"/>
<circle cx="123.63" cy="303.91" r="2.2"/>
<circle cx="124.68" cy="302.67" r="2.2"/>
<circle cx="125.75" cy="299.57" r="2.2"/>
<circle cx="127.15" cy="297.57" r="2.2"/>
<circle cx="127.81" cy="295.89" r="2.2"/>
<circle cx="128.89" cy="292.11" r="2.2"/>
<circle cx="130.07" cy="288.07" r="2.2"/>
<circle cx="131.03" cy="283.89" r="2.2"/>
<circle cx="132.06" cy="281.05" r="2.2"/>
<circle cx="132.93" cy="278.27" r="2.2"/>
<circle cx="134.2" cy="274.08" r="2.2"/>
<circle cx="135.16" cy="271.36" r="2.2"/>
<circle cx="136.53" cy="266.68" r="2.2"/>
<circle cx="137.48" cy="263.11" r="2.2"/>
<circle cx="138.4" cy="258.59" r="2.2"/>
<circle cx="139.58" cy="254.71" r="2.2"/>
<circle cx="140.43" cy="249.2" r="2.2"/>
<circle cx="141.76" cy="245.42" r="2.2"/>
<circle cx="142.6" cy="241.43" r="2.2"/>
<circle cx="143.77" cy="237.89" r="2.2"/>
<circle cx="144.44" cy="234.7" r="2.2"/>
<circle cx="145.82" cy="234.67" r="2.2"/>
<circle cx="146.46" cy="234.31" r="2.2"/>
<circle cx="147.44" cy="234.42" r="2.2"/>
<circle cx="148.84" cy="233.68" r="2.2"/>
<circle cx="149.77" cy="234.74" r="2.2"/>
<circle cx="151.03" cy="236.69" r="2.2"/>
<circle cx="152.5" cy="241.25" r="2.2"/>
<circle cx="152.93" cy="245.62" r="2.2"/>
<circle cx="154.03" cy="247.63" r="2.2"/>
<circle cx="155.24" cy="253.19" r="2.2"/>
<circle cx="156.35" cy="259.31" r="2.2"/>
<circle cx="157.26" cy="263.68" r="2.2"/>
<circle cx="158.31" cy="268.47" r="2.2"/>
<circle cx="159.54" cy="272.07" r="2.2"/>
<circle cx="160.55" cy="274.09" r="2.2"/>
<circle cx="161.29" cy="274.26" r="2.2"/>
<circle cx="162.53" cy="274.18" r="2.2"/>
<circle cx="163.61" cy="273.12" r="2.2"/>
<circle cx="164.44" cy="268.1" r="2.2"/>
<circle cx="165.75" cy="265.19" r="2.2"/>
<circle cx="166.58" cy="259.49" r="2.2"/>
<circle cx="167.99" cy="253.61" r="2.2"/>
<circle cx="168.89" cy="249.9" r="2.2"/>
<circle cx="169.92" cy="244.72" r="2.2"/>
<circle cx="170.83" cy="239.99" r="2.2"/>
<circle cx="171.98" cy="237.24" r="2.2"/>
<circle cx="172.65" cy="233.28" r="2.2"/>
<circle cx="173.87" cy="228.92" r="2.2"/>
<circle cx="175.22" cy="226.98" r="2.2"/>
<circle cx="175.77" cy="228.43" r="2.2"/>
<circle cx="177.42" cy="232.71" r="2.2"/>
<circle cx="177.95" cy="237.36" r="2.2"/>
<circle cx="179.5" cy="240.72" r="2.2"/>
<circle cx="180.23" cy="246.32" r="2.2"/>
<circle cx="181.61" cy="252.51" r="2.2"/>
<circle cx="182.53" cy="261.88" r="2.2"/>
<circle cx="183.24" cy="275.26" r="2.2"/>
<circle cx="184.85" cy="285.14" r="2.2"/>
<circle cx="185.94" cy="291.03" r="2.2"/>
<circle cx="186.69" cy="298.98" r="2.2"/>
<circle cx="187.7" cy="307.12" r="2.2"/>
<circle cx="188.77" cy="312.9" r="2.2"/>
<circle cx="189.65" cy="316.77" r="2.2"/>
<polyline points="117.4,318 117.8,316.88 118.2,315.78 118.6,314.72 119,313.7 119.4,312.71 119.8,311.76 120.2,310.85 120.6,309.99 121,309.16 121.4,308.36 121.8,307.57 122.2,306.79 122.6,306 123,305.22 123.4,304.44 123.8,303.68 124.2,302.92 124.6,302.15 125,301.38 125.4,300.61 125.8,299.86 126.2,299.14 126.6,298.42 127,297.65 127.4,296.81 127.8,295.86 128.2,294.71 128.6,293.27 129,291.69 129.4,290.13 129.8,288.7 130.2,287.31 130.6,285.95 131,284.61 131.4,283.3 131.8,282.01 132.2,280.75 132.6,279.52 133,278.3 133.4,277.12 133.8,276 134.2,274.89 134.6,273.73 135,272.48 135.4,271.12 135.8,269.68 136.2,268.2 136.6,266.7 137,265.21 137.4,263.7 137.8,262.15 138.2,260.54 138.6,258.83 139,257 139.4,255.09 139.8,253.19 140.2,251.35 140.6,249.5 141,247.65 141.4,245.88 141.8,244.27 142.2,242.8 142.6,241.33 143,239.93 143.4,238.68 143.8,237.64 144.2,236.9 144.6,236.34 145,235.82 145.4,235.35 145.8,234.94 146.2,234.62 146.6,234.4 147,234.3 147.4,234.31 147.8,234.35 148.2,234.41 148.6,234.51 149,234.63 149.4,234.78 149.8,234.95 150.2,235.18 150.6,235.95 151,237.28 151.4,238.94 151.8,240.69 152.2,242.31 152.6,243.61 153,244.72 153.4,245.79 153.8,246.94 154.2,248.3 154.6,250.03 155,252.11 155.4,254.33 155.8,256.49 156.2,258.52 156.6,260.57 157,262.58 157.4,264.49 157.8,266.22 158.2,267.92 158.6,269.54 159,270.94 159.4,272 159.8,272.83 160.2,273.61 160.6,274.28 161,274.76 161.4,274.99 161.8,274.92 162.2,274.59 162.6,274.06 163,273.41 163.4,272.68 163.8,271.84 164.2,270.66 164.6,269.22 165,267.62 165.4,265.94 165.8,264.23 166.2,262.3 166.6,260.22 167,258.08 167.4,256 167.8,253.99 168.2,251.95 168.6,249.93 169,247.99 169.4,246.21 169.8,244.63 170.2,243.19 170.6,241.85 171,240.55 171.4,239.25 171.8,237.91 172.2,236.45 172.6,234.83 173,233.14 173.4,231.5 173.8,230 174.2,228.76 174.6,227.73 175,226.8 175.4,226.4 175.8,227.03 176.2,228.47 176.6,230 177,231.4 177.4,232.88 177.8,234.44 178.2,236.08 178.6,237.79 179,239.55 179.4,241.35 179.8,243.2 180.2,245.15 180.6,247.3 181,249.7 181.4,252.42 181.8,255.49 182.2,258.94 182.6,262.81 183,267.22 183.4,273.51 183.8,279.47 184.2,282.92 184.6,285.49 185,287.64 185.4,289.72 185.8,292.1 186.2,294.84 186.6,297.71 187,300.65 187.4,303.6 187.8,306.86 188.2,310.22 188.6,312.85 189,314.46 189.4,315.89 189.8,317.12 190.2,318.03 190.6,318.53" fill="none" stroke="#111" stroke-width="1.2" stroke-linejoin="round"/>
<polyline points="117.5,317.33 117.81,317.31 118.12,317.28 118.42,317.25 118.73,317.22 119.04,317.18 119.35,317.14 119.65,317.09 119.96,317.03 120.27,316.98 120.58,316.91 120.88,316.84 121.19,316.75 121.5,316.66 121.81,316.56 122.11,316.45 122.42,316.33 122.73,316.2 123.04,316.05 123.34,315.88 123.65,315.71 123.96,315.51 124.27,315.3 124.57,315.07 124.88,314.81 125.19,314.54 125.5,314.24 125.8,313.92 126.11,313.57 126.42,313.19 126.73,312.79 127.03,312.35 127.34,311.88 127.65,311.38 127.96,310.84 128.26,310.26 128.57,309.65 128.88,308.99 129.19,308.3 129.49,307.56 129.8,306.78 130.11,305.95 130.42,305.08 130.72,304.16 131.03,303.19 131.34,302.18 131.65,301.12 131.95,300.01 132.26,298.85 132.57,297.64 132.88,296.38 133.18,295.08 133.49,293.73 133.8,292.34 134.11,290.9 134.41,289.42 134.72,287.91 135.03,286.35 135.34,284.76 135.64,283.14 135.95,281.49 136.26,279.82 136.57,278.12 136.87,276.41 137.18,274.69 137.49,272.96 137.8,271.22 138.1,269.49 138.41,267.76 138.72,266.04 139.03,264.34 139.33,262.67 139.64,261.02 139.95,259.41 140.26,257.84 140.56,256.31 140.87,254.84 141.18,253.42 141.49,252.06 141.79,250.78 142.1,249.56 142.41,248.42 142.72,247.37 143.03,246.4 143.33,245.52 143.64,244.73 143.95,244.05 144.26,243.46 144.56,242.97 144.87,242.6 145.18,242.32 145.49,242.16 145.79,242.1 146.1,242.15 146.41,242.31 146.72,242.58 147.02,242.95 147.33,243.43 147.64,244.02 147.95,244.7 148.25,245.48 148.56,246.35 148.87,247.32 149.18,248.37 149.48,249.51 149.79,250.72 150.1,252 150.41,253.36 150.71,254.77 151.02,256.24 151.33,257.77 151.64,259.34 151.94,260.95 152.25,262.59 152.56,264.27 152.87,265.96 153.17,267.68 153.48,269.41 153.79,271.14 154.1,272.88 154.4,274.61 154.71,276.33 155.02,278.05 155.33,279.74 155.63,281.42 155.94,283.07 156.25,284.69 156.56,286.28 156.86,287.84 157.17,289.36 157.48,290.84 157.79,292.27 158.09,293.67 158.4,295.02 158.71,296.33 159.02,297.58 159.32,298.79 159.63,299.95 159.94,301.07 160.25,302.13 160.55,303.15 160.86,304.12 161.17,305.04 161.48,305.91 161.78,306.74 162.09,307.53 162.4,308.27 162.71,308.96 163.01,309.62 163.32,310.24 163.63,310.81 163.94,311.35 164.24,311.86 164.55,312.33 164.86,312.77 165.17,313.18 165.47,313.55 165.78,313.9 166.09,314.23 166.4,314.53 166.71,314.8 167.01,315.06 167.32,315.29 167.63,315.5 167.94,315.7 168.24,315.88 168.55,316.04 168.86,316.19 169.17,316.32 169.47,316.45 169.78,316.56 170.09,316.66 170.4,316.75 170.7,316.83 171.01,316.91 171.32,316.97 171.63,317.03 171.93,317.09 172.24,317.13 172.55,317.18 172.86,317.22 173.16,317.25 173.47,317.28 173.78,317.31 174.09,317.33 174.39,317.35 174.7,317.37 175.01,317.39 175.32,317.4 175.62,317.41 175.93,317.43 176.24,317.44 176.55,317.44 176.85,317.45 177.16,317.46 177.47,317.46 177.78,317.47 178.08,317.47 178.39,317.48 178.7,317.48 179.01,317.48 179.31,317.49 179.62,317.49 179.93,317.49 180.24,317.49 180.54,317.49 180.85,317.49 181.16,317.49 181.47,317.5 181.77,317.5 182.08,317.5 182.39,317.5 182.7,317.5 183,317.5 183.31,317.5 183.62,317.5 183.93,317.5 184.23,317.5 184.54,317.5 184.85,317.5 185.16,317.5 185.46,317.5 185.77,317.5 186.08,317.5 186.39,317.5 186.69,317.5 187,317.5 187.31,317.5 187.62,317.5 187.92,317.5 188.23,317.5 188.54,317.5 188.85,317.5 189.15,317.5 189.46,317.5 189.77,317.5 190.08,317.5 190.38,317.5 190.69,317.5 191,317.5" fill="none" stroke="#c0c83c" stroke-width="1.2" stroke-linejoin="round"/>
<polyline points="117.5,317.5 117.81,317.5 118.12,317.5 118.42,317.5 118.73,317.5 119.04,317.5 119.35,317.5 119.65,317.5 119.96,317.5 120.27,317.49 120.58,317.49 120.88,317.49 121.19,317.49 121.5,317.49 121.81,317.48 122.11,317.48 122.42,317.47 122.73,317.47 123.04,317.46 123.34,317.45 123.65,317.44 123.96,317.43 124.27,317.41 124.57,317.4 124.88,317.38 125.19,317.35 125.5,317.32 125.8,317.28 126.11,317.24 126.42,317.19 126.73,317.14 127.03,317.07 127.34,316.99 127.65,316.9 127.96,316.8 128.26,316.68 128.57,316.54 128.88,316.38 129.19,316.2 129.49,315.99 129.8,315.76 130.11,315.5 130.42,315.2 130.72,314.86 131.03,314.48 131.34,314.06 131.65,313.59 131.95,313.07 132.26,312.49 132.57,311.85 132.88,311.15 133.18,310.37 133.49,309.53 133.8,308.61 134.11,307.61 134.41,306.53 134.72,305.37 135.03,304.12 135.34,302.77 135.64,301.34 135.95,299.82 136.26,298.2 136.57,296.5 136.87,294.7 137.18,292.82 137.49,290.86 137.8,288.82 138.1,286.7 138.41,284.52 138.72,282.28 139.03,280 139.33,277.67 139.64,275.31 139.95,272.93 140.26,270.55 140.56,268.17 140.87,265.82 141.18,263.49 141.49,261.22 141.79,259.01 142.1,256.88 142.41,254.84 142.72,252.91 143.03,251.1 143.33,249.42 143.64,247.9 143.95,246.53 144.26,245.33 144.56,244.3 144.87,243.47 145.18,242.83 145.49,242.39 145.79,242.15 146.1,242.11 146.41,242.28 146.72,242.65 147.02,243.22 147.33,243.99 147.64,244.95 147.95,246.09 148.25,247.4 148.56,248.88 148.87,250.5 149.18,252.27 149.48,254.16 149.79,256.16 150.1,258.26 150.41,260.45 150.71,262.7 151.02,265.01 151.33,267.35 151.64,269.72 151.94,272.1 152.25,274.49 152.56,276.85 152.87,279.19 153.17,281.5 153.48,283.75 153.79,285.95 154.1,288.09 154.4,290.16 154.71,292.15 155.02,294.06 155.33,295.88 155.63,297.62 155.94,299.27 156.25,300.82 156.56,302.29 156.86,303.66 157.17,304.94 157.48,306.14 157.79,307.25 158.09,308.28 158.4,309.22 158.71,310.09 159.02,310.89 159.32,311.61 159.63,312.27 159.94,312.87 160.25,313.41 160.55,313.9 160.86,314.34 161.17,314.73 161.48,315.08 161.78,315.4 162.09,315.67 162.4,315.92 162.71,316.13 163.01,316.32 163.32,316.49 163.63,316.63 163.94,316.76 164.24,316.87 164.55,316.96 164.86,317.04 165.17,317.11 165.47,317.18 165.78,317.23 166.09,317.27 166.4,317.31 166.71,317.34 167.01,317.37 167.32,317.39 167.63,317.41 167.94,317.42 168.24,317.44 168.55,317.45 168.86,317.46 169.17,317.47 169.47,317.47 169.78,317.48 170.09,317.48 170.4,317.49 170.7,317.49 171.01,317.49 171.32,317.49 171.63,317.49 171.93,317.5 172.24,317.5 172.55,317.5 172.86,317.5 173.16,317.5 173.47,317.5 173.78,317.5 174.09,317.5 174.39,317.5 174.7,317.5 175.01,317.5 175.32,317.5 175.62,317.5 175.93,317.5 176.24,317.5 176.55,317.5 176.85,317.5 177.16,317.5 177.47,317.5 177.78,317.5 178.08,317.5 178.39,317.5 178.7,317.5 179.01,317.5 179.31,317.5 179.62,317.5 179.93,317.5 180.24,317.5 180.54,317.5 180.85,317.5 181.16,317.5 181.47,317.5 181.77,317.5 182.08,317.5 182.39,317.5 182.7,317.5 183,317.5 183.31,317.5 183.62,317.5 183.93,317.5 184.23,317.5 184.54,317.5 184.85,317.5 185.16,317.5 185.46,317.5 185.77,317.5 186.08,317.5 186.39,317.5 186.69,317.5 187,317.5 187.31,317.5 187.62,317.5 187.92,317.5 188.23,317.5 188.54,317.5 188.85,317.5 189.15,317.5 189.46,317.5 189.77,317.5 190.08,317.5 190.38,317.5 190.69,317.5 191,317.5" fill="none" stroke="#c0c83c" stroke-width="1.2" stroke-linejoin="round"/>
<polyline points="117.5,317.5 117.81,317.5 118.12,317.5 118.42,317.5 118.73,317.5 119.04,317.5 119.35,317.5 119.65,317.5 119.96,317.5 120.27,317.5 120.58,317.5 120.88,317.5 121.19,317.5 121.5,317.5 121.81,317.5 122.11,317.5 122.42,317.5 122.73,317.5 123.04,317.5 123.34,317.5 123.65,317.5 123.96,317.5 124.27,317.5 124.57,317.5 124.88,317.5 125.19,317.5 125.5,317.5 125.8,317.5 126.11,317.5 126.42,317.5 126.73,317.5 127.03,317.5 127.34,317.5 127.65,317.5 127.96,317.5 128.26,317.5 128.57,317.5 128.88,317.5 129.19,317.5 129.49,317.5 129.8,317.5 130.11,317.5 130.42,317.5 130.72,317.5 131.03,317.5 131.34,317.5 131.65,317.5 131.95,317.5 132.26,317.5 132.57,317.5 132.88,317.5 133.18,317.5 133.49,317.5 133.8,317.5 134.11,317.5 134.41,317.5 134.72,317.5 135.03,317.5 135.34,317.5 135.64,317.5 135.95,317.5 136.26,317.5 136.57,317.5 136.87,317.5 137.18,317.5 137.49,317.5 137.8,317.5 138.1,317.5 138.41,317.5 138.72,317.5 139.03,317.5 139.33,317.5 139.64,317.5 139.95,317.5 140.26,317.5 140.56,317.5 140.87,317.5 141.18,317.5 141.49,317.5 141.79,317.5 142.1,317.5 142.41,317.5 142.72,317.5 143.03,317.5 143.33,317.5 143.64,317.5 143.95,317.49 144.26,317.49 144.56,317.49 144.87,317.49 145.18,317.49 145.49,317.49 145.79,317.48 146.1,317.48 146.41,317.48 146.72,317.47 147.02,317.46 147.33,317.46 147.64,317.45 147.95,317.44 148.25,317.43 148.56,317.42 148.87,317.4 149.18,317.39 149.48,317.37 149.79,317.35 150.1,317.32 150.41,317.29 150.71,317.26 151.02,317.22 151.33,317.17 151.64,317.12 151.94,317.07 152.25,317 152.56,316.92 152.87,316.84 153.17,316.74 153.48,316.64 153.79,316.52 154.1,316.38 154.4,316.23 154.71,316.06 155.02,315.86 155.33,315.65 155.63,315.42 155.94,315.15 156.25,314.86 156.56,314.54 156.86,314.19 157.17,313.8 157.48,313.38 157.79,312.91 158.09,312.4 158.4,311.84 158.71,311.24 159.02,310.58 159.32,309.87 159.63,309.11 159.94,308.28 160.25,307.39 160.55,306.43 160.86,305.41 161.17,304.32 161.48,303.15 161.78,301.91 162.09,300.6 162.4,299.21 162.71,297.74 163.01,296.2 163.32,294.58 163.63,292.88 163.94,291.1 164.24,289.25 164.55,287.33 164.86,285.33 165.17,283.27 165.47,281.14 165.78,278.95 166.09,276.71 166.4,274.42 166.71,272.09 167.01,269.72 167.32,267.32 167.63,264.9 167.94,262.46 168.24,260.02 168.55,257.59 168.86,255.16 169.17,252.76 169.47,250.4 169.78,248.08 170.09,245.81 170.4,243.61 170.7,241.48 171.01,239.44 171.32,237.5 171.63,235.66 171.93,233.93 172.24,232.33 172.55,230.86 172.86,229.53 173.16,228.35 173.47,227.32 173.78,226.44 174.09,225.74 174.39,225.2 174.7,224.83 175.01,224.63 175.32,224.61 175.62,224.77 175.93,225.09 176.24,225.59 176.55,226.25 176.85,227.09 177.16,228.08 177.47,229.22 177.78,230.52 178.08,231.95 178.39,233.53 178.7,235.22 179.01,237.03 179.31,238.96 179.62,240.97 179.93,243.08 180.24,245.26 180.54,247.52 180.85,249.82 181.16,252.18 181.47,254.57 181.77,256.99 182.08,259.42 182.39,261.86 182.7,264.3 183,266.72 183.31,269.13 183.62,271.51 183.93,273.85 184.23,276.15 184.54,278.41 184.85,280.61 185.16,282.75 185.46,284.83 185.77,286.84 186.08,288.78 186.39,290.65 186.69,292.45 187,294.16 187.31,295.81 187.62,297.37 187.92,298.86 188.23,300.26 188.54,301.6 188.85,302.85 189.15,304.04 189.46,305.15 189.77,306.19 190.08,307.16 190.38,308.06 190.69,308.91 191,309.69" fill="none" stroke="#c0c83c" stroke-width="1.2" stroke-linejoin="round"/>
<polyline points="117.5,316.1 117.81,315.91 118.12,315.71 118.42,315.5 118.73,315.26 119.04,315 119.35,314.72 119.65,314.42 119.96,314.1 120.27,313.75 120.58,313.39 120.88,313 121.19,312.59 121.5,312.16 121.81,311.71 122.11,311.24 122.42,310.76 122.73,310.26 123.04,309.75 123.34,309.23 123.65,308.7 123.96,308.16 124.27,307.63 124.57,307.09 124.88,306.57 125.19,306.05 125.5,305.54 125.8,305.05 126.11,304.58 126.42,304.13 126.73,303.72 127.03,303.33 127.34,302.98 127.65,302.66 127.96,302.39 128.26,302.16 128.57,301.97 128.88,301.84 129.19,301.74 129.49,301.7 129.8,301.71 130.11,301.77 130.42,301.87 130.72,302.03 131.03,302.23 131.34,302.47 131.65,302.76 131.95,303.08 132.26,303.45 132.57,303.84 132.88,304.27 133.18,304.72 133.49,305.2 133.8,305.69 134.11,306.21 134.41,306.73 134.72,307.26 135.03,307.79 135.34,308.33 135.64,308.86 135.95,309.39 136.26,309.91 136.57,310.42 136.87,310.91 137.18,311.39 137.49,311.85 137.8,312.3 138.1,312.72 138.41,313.12 138.72,313.5 139.03,313.86 139.33,314.2 139.64,314.52 139.95,314.81 140.26,315.08 140.56,315.33 140.87,315.57 141.18,315.78 141.49,315.97 141.79,316.15 142.1,316.31 142.41,316.45 142.72,316.58 143.03,316.7 143.33,316.8 143.64,316.89 143.95,316.97 144.26,317.05 144.56,317.11 144.87,317.17 145.18,317.21 145.49,317.26 145.79,317.29 146.1,317.32 146.41,317.35 146.72,317.38 147.02,317.4 147.33,317.41 147.64,317.43 147.95,317.44 148.25,317.45 148.56,317.46 148.87,317.47 149.18,317.47 149.48,317.48 149.79,317.48 150.1,317.48 150.41,317.49 150.71,317.49 151.02,317.49 151.33,317.49 151.64,317.49 151.94,317.5 152.25,317.5 152.56,317.5 152.87,317.5 153.17,317.5 153.48,317.5 153.79,317.5 154.1,317.5 154.4,317.5 154.71,317.5 155.02,317.5 155.33,317.5 155.63,317.5 155.94,317.5 156.25,317.5 156.56,317.5 156.86,317.5 157.17,317.5 157.48,317.5 157.79,317.5 158.09,317.5 158.4,317.5 158.71,317.5 159.02,317.5 159.32,317.5 159.63,317.5 159.94,317.5 160.25,317.5 160.55,317.5 160.86,317.5 161.17,317.5 161.48,317.5 161.78,317.5 162.09,317.5 162.4,317.5 162.71,317.5 163.01,317.5 163.32,317.5 163.63,317.5 163.94,317.5 164.24,317.5 164.55,317.5 164.86,317.5 165.17,317.5 165.47,317.5 165.78,317.5 166.09,317.5 166.4,317.5 166.71,317.5 167.01,317.5 167.32,317.5 167.63,317.5 167.94,317.5 168.24,317.5 168.55,317.5 168.86,317.5 169.17,317.5 169.47,317.5 169.78,317.5 170.09,317.5 170.4,317.5 170.7,317.5 171.01,317.5 171.32,317.5 171.63,317.5 171.93,317.5 172.24,317.5 172.55,317.5 172.86,317.5 173.16,317.5 173.47,317.5 173.78,317.5 174.09,317.5 174.39,317.5 174.7,317.5 175.01,317.5 175.32,317.5 175.62,317.5 175.93,317.5 176.24,317.5 176.55,317.5 176.85,317.5 177.16,317.5 177.47,317.5 177.78,317.5 178.08,317.5 178.39,317.5 178.7,317.5 179.01,317.5 179.31,317.5 179.62,317.5 179.93,317.5 180.24,317.5 180.54,317.5 180.85,317.5 181.16,317.5 181.47,317.5 181.77,317.5 182.08,317.5 182.39,317.5 182.7,317.5 183,317.5 183.31,317.5 183.62,317.5 183.93,317.5 184.23,317.5 184.54,317.5 184.85,317.5 185.16,317.5 185.46,317.5 185.77,317.5 186.08,317.5 186.39,317.5 186.69,317.5 187,317.5 187.31,317.5 187.62,317.5 187.92,317.5 188.23,317.5 188.54,317.5 188.85,317.5 189.15,317.5 189.46,317.5 189.77,317.5 190.08,317.5 190.38,317.5 190.69,317.5 191,317.5" fill="none" stroke="#2f7838" stroke-width="1.5" stroke-linejoin="round"/>
<polyline points="117.5,317.5 117.81,317.5 118.12,317.5 118.42,317.5 118.73,317.5 119.04,317.5 119.35,317.5 119.65,317.5 119.96,317.5 120.27,317.5 120.58,317.5 120.88,317.5 121.19,317.5 121.5,317.5 121.81,317.5 122.11,317.5 122.42,317.5 122.73,317.5 123.04,317.5 123.34,317.5 123.65,317.5 123.96,317.5 124.27,317.5 124.57,317.5 124.88,317.5 125.19,317.5 125.5,317.5 125.8,317.5 126.11,317.5 126.42,317.5 126.73,317.5 127.03,317.5 127.34,317.5 127.65,317.5 127.96,317.5 128.26,317.5 128.57,317.5 128.88,317.5 129.19,317.5 129.49,317.5 129.8,317.5 130.11,317.5 130.42,317.5 130.72,317.5 131.03,317.5 131.34,317.5 131.65,317.5 131.95,317.5 132.26,317.5 132.57,317.5 132.88,317.5 133.18,317.5 133.49,317.5 133.8,317.5 134.11,317.5 134.41,317.5 134.72,317.5 135.03,317.5 135.34,317.49 135.64,317.49 135.95,317.49 136.26,317.49 136.57,317.49 136.87,317.49 137.18,317.48 137.49,317.48 137.8,317.47 138.1,317.47 138.41,317.46 138.72,317.46 139.03,317.45 139.33,317.44 139.64,317.42 139.95,317.41 140.26,317.39 140.56,317.38 140.87,317.35 141.18,317.33 141.49,317.3 141.79,317.26 142.1,317.23 142.41,317.18 142.72,317.13 143.03,317.07 143.33,317.01 143.64,316.93 143.95,316.85 144.26,316.76 144.56,316.65 144.87,316.54 145.18,316.41 145.49,316.26 145.79,316.1 146.1,315.93 146.41,315.74 146.72,315.52 147.02,315.29 147.33,315.04 147.64,314.77 147.95,314.47 148.25,314.16 148.56,313.82 148.87,313.45 149.18,313.06 149.48,312.64 149.79,312.2 150.1,311.74 150.41,311.25 150.71,310.73 151.02,310.2 151.33,309.64 151.64,309.06 151.94,308.46 152.25,307.85 152.56,307.22 152.87,306.58 153.17,305.92 153.48,305.27 153.79,304.61 154.1,303.94 154.4,303.29 154.71,302.63 155.02,301.99 155.33,301.37 155.63,300.76 155.94,300.18 156.25,299.62 156.56,299.1 156.86,298.6 157.17,298.15 157.48,297.74 157.79,297.37 158.09,297.04 158.4,296.77 158.71,296.55 159.02,296.38 159.32,296.27 159.63,296.21 159.94,296.21 160.25,296.26 160.55,296.37 160.86,296.53 161.17,296.75 161.48,297.02 161.78,297.33 162.09,297.7 162.4,298.11 162.71,298.56 163.01,299.05 163.32,299.57 163.63,300.13 163.94,300.71 164.24,301.31 164.55,301.93 164.86,302.57 165.17,303.22 165.47,303.88 165.78,304.54 166.09,305.2 166.4,305.86 166.71,306.52 167.01,307.16 167.32,307.79 167.63,308.41 167.94,309 168.24,309.59 168.55,310.15 168.86,310.68 169.17,311.2 169.47,311.69 169.78,312.16 170.09,312.6 170.4,313.02 170.7,313.41 171.01,313.78 171.32,314.13 171.63,314.45 171.93,314.74 172.24,315.02 172.55,315.27 172.86,315.5 173.16,315.72 173.47,315.91 173.78,316.09 174.09,316.25 174.39,316.39 174.7,316.52 175.01,316.64 175.32,316.75 175.62,316.84 175.93,316.93 176.24,317 176.55,317.07 176.85,317.12 177.16,317.18 177.47,317.22 177.78,317.26 178.08,317.29 178.39,317.32 178.7,317.35 179.01,317.37 179.31,317.39 179.62,317.41 179.93,317.42 180.24,317.44 180.54,317.45 180.85,317.45 181.16,317.46 181.47,317.47 181.77,317.47 182.08,317.48 182.39,317.48 182.7,317.49 183,317.49 183.31,317.49 183.62,317.49 183.93,317.49 184.23,317.49 184.54,317.5 184.85,317.5 185.16,317.5 185.46,317.5 185.77,317.5 186.08,317.5 186.39,317.5 186.69,317.5 187,317.5 187.31,317.5 187.62,317.5 187.92,317.5 188.23,317.5 188.54,317.5 188.85,317.5 189.15,317.5 189.46,317.5 189.77,317.5 190.08,317.5 190.38,317.5 190.69,317.5 191,317.5" fill="none" stroke="#2f7838" stroke-width="1.5" stroke-linejoin="round"/>
<path d="M175.2,223.5 L175.2,220.3 L187,220.3" fill="none" stroke="#8a8a8a" stroke-width="1"/>
<text x="188.2" y="226.6" font-size="13.5" fill="#c0c83c" stroke="#c0c83c" stroke-width="0.3" text-anchor="start">Ta<tspan dx="1" dy="-5.5" font-size="9.5">0</tspan></text>
<path d="M159.8,295.5 L159.8,289.8 L192.5,289.8" fill="none" stroke="#8a8a8a" stroke-width="1"/>
<text x="194" y="295" font-size="13.5" fill="#2b8232" stroke="#2b8232" stroke-width="0.3" text-anchor="start">Ta-N</text>
<rect x="325" y="211.5" width="185.5" height="132.5" fill="none" stroke="#5e5e5e" stroke-width="1.2"/>
<line x1="325" y1="211.5" x2="325" y2="214" stroke="#5e5e5e" stroke-width="1.1"/>
<line x1="325" y1="344" x2="325" y2="341.5" stroke="#5e5e5e" stroke-width="1.1"/>
<text x="325" y="356.7" font-size="11.5" fill="#1a1a1a" stroke="#1a1a1a" stroke-width="0.3" text-anchor="middle">30</text>
<line x1="355.92" y1="211.5" x2="355.92" y2="214" stroke="#5e5e5e" stroke-width="1.1"/>
<line x1="355.92" y1="344" x2="355.92" y2="341.5" stroke="#5e5e5e" stroke-width="1.1"/>
<text x="355.92" y="356.7" font-size="11.5" fill="#1a1a1a" stroke="#1a1a1a" stroke-width="0.3" text-anchor="middle">28</text>
<line x1="386.83" y1="211.5" x2="386.83" y2="214" stroke="#5e5e5e" stroke-width="1.1"/>
<line x1="386.83" y1="344" x2="386.83" y2="341.5" stroke="#5e5e5e" stroke-width="1.1"/>
<text x="386.83" y="356.7" font-size="11.5" fill="#1a1a1a" stroke="#1a1a1a" stroke-width="0.3" text-anchor="middle">26</text>
<line x1="417.75" y1="211.5" x2="417.75" y2="214" stroke="#5e5e5e" stroke-width="1.1"/>
<line x1="417.75" y1="344" x2="417.75" y2="341.5" stroke="#5e5e5e" stroke-width="1.1"/>
<text x="417.75" y="356.7" font-size="11.5" fill="#1a1a1a" stroke="#1a1a1a" stroke-width="0.3" text-anchor="middle">24</text>
<line x1="448.67" y1="211.5" x2="448.67" y2="214" stroke="#5e5e5e" stroke-width="1.1"/>
<line x1="448.67" y1="344" x2="448.67" y2="341.5" stroke="#5e5e5e" stroke-width="1.1"/>
<text x="448.67" y="356.7" font-size="11.5" fill="#1a1a1a" stroke="#1a1a1a" stroke-width="0.3" text-anchor="middle">22</text>
<line x1="479.58" y1="211.5" x2="479.58" y2="214" stroke="#5e5e5e" stroke-width="1.1"/>
<line x1="479.58" y1="344" x2="479.58" y2="341.5" stroke="#5e5e5e" stroke-width="1.1"/>
<text x="479.58" y="356.7" font-size="11.5" fill="#1a1a1a" stroke="#1a1a1a" stroke-width="0.3" text-anchor="middle">20</text>
<line x1="510.5" y1="211.5" x2="510.5" y2="214" stroke="#5e5e5e" stroke-width="1.1"/>
<line x1="510.5" y1="344" x2="510.5" y2="341.5" stroke="#5e5e5e" stroke-width="1.1"/>
<text x="510.5" y="356.7" font-size="11.5" fill="#1a1a1a" stroke="#1a1a1a" stroke-width="0.3" text-anchor="middle">18</text>
<text x="417.75" y="372" font-size="15.6" fill="#1a1a1a" stroke="#1a1a1a" stroke-width="0.3" text-anchor="middle">Binding Energy (eV)</text>
<text transform="translate(316.5,276.5) rotate(-90) scale(1,1.08)" font-size="15.65" fill="#1a1a1a" stroke="#1a1a1a" stroke-width="0.3" text-anchor="middle">XPS Intensity (A.U.)</text>
<text x="275.5" y="369.8" font-size="21" fill="#111" stroke="#111" stroke-width="0.3" text-anchor="start">(e)</text>
<text x="331.6" y="227.5" font-size="13.5" fill="#111" stroke="#111" stroke-width="0.3" text-anchor="start">Ta 4f</text>
<circle cx="337.6" cy="324.06" r="2.35"/>
<circle cx="338.9" cy="322.83" r="2.35"/>
<circle cx="340.2" cy="322.87" r="2.35"/>
<circle cx="341.5" cy="322.17" r="2.35"/>
<circle cx="342.8" cy="322" r="2.35"/>
<circle cx="344.1" cy="321.36" r="2.35"/>
<circle cx="345.4" cy="322.6" r="2.35"/>
<circle cx="346.7" cy="321.44" r="2.35"/>
<circle cx="348" cy="321.68" r="2.35"/>
<circle cx="349.3" cy="320.59" r="2.35"/>
<circle cx="350.6" cy="319.61" r="2.35"/>
<circle cx="351.9" cy="319.31" r="2.35"/>
<circle cx="353.2" cy="318.66" r="2.35"/>
<circle cx="354.5" cy="318.5" r="2.35"/>
<circle cx="355.8" cy="317.76" r="2.35"/>
<circle cx="357.1" cy="317.27" r="2.35"/>
<circle cx="358.4" cy="316.08" r="2.35"/>
<circle cx="359.7" cy="315.88" r="2.35"/>
<circle cx="361" cy="316.83" r="2.35"/>
<circle cx="362.3" cy="314.92" r="2.35"/>
<circle cx="363.6" cy="314.19" r="2.35"/>
<circle cx="364.9" cy="314.52" r="2.35"/>
<circle cx="366.2" cy="314.68" r="2.35"/>
<circle cx="367.5" cy="312.51" r="2.35"/>
<circle cx="368.8" cy="312.75" r="2.35"/>
<circle cx="370.1" cy="311.86" r="2.35"/>
<circle cx="371.4" cy="310.31" r="2.35"/>
<circle cx="372.7" cy="310.74" r="2.35"/>
<circle cx="374" cy="309.08" r="2.35"/>
<circle cx="375.3" cy="307.74" r="2.35"/>
<circle cx="376.6" cy="305.55" r="2.35"/>
<circle cx="377.9" cy="304.61" r="2.35"/>
<circle cx="379.2" cy="302.64" r="2.35"/>
<circle cx="380.5" cy="301.61" r="2.35"/>
<circle cx="381.8" cy="299.5" r="2.35"/>
<circle cx="383.1" cy="297.31" r="2.35"/>
<circle cx="384.4" cy="296.3" r="2.35"/>
<circle cx="385.7" cy="292.38" r="2.35"/>
<circle cx="387" cy="289.72" r="2.35"/>
<circle cx="388.3" cy="286.24" r="2.35"/>
<circle cx="389.6" cy="282.72" r="2.35"/>
<circle cx="390.9" cy="279.37" r="2.35"/>
<circle cx="392.2" cy="276.6" r="2.35"/>
<circle cx="393.5" cy="272.32" r="2.35"/>
<circle cx="394.8" cy="268.21" r="2.35"/>
<circle cx="396.1" cy="263.84" r="2.35"/>
<circle cx="397.4" cy="260.2" r="2.35"/>
<circle cx="398.7" cy="255.7" r="2.35"/>
<circle cx="400" cy="251.37" r="2.35"/>
<circle cx="401.3" cy="246.46" r="2.35"/>
<circle cx="402.6" cy="241.26" r="2.35"/>
<circle cx="403.9" cy="240.05" r="2.35"/>
<circle cx="405.2" cy="238.6" r="2.35"/>
<circle cx="406.5" cy="237.05" r="2.35"/>
<circle cx="407.8" cy="237.42" r="2.35"/>
<circle cx="409.1" cy="238.23" r="2.35"/>
<circle cx="410.4" cy="239.1" r="2.35"/>
<circle cx="411.7" cy="239.81" r="2.35"/>
<circle cx="413" cy="239.65" r="2.35"/>
<circle cx="414.3" cy="241.2" r="2.35"/>
<circle cx="415.6" cy="239.24" r="2.35"/>
<circle cx="416.9" cy="239.56" r="2.35"/>
<circle cx="418.2" cy="238.12" r="2.35"/>
<circle cx="419.5" cy="237.18" r="2.35"/>
<circle cx="420.8" cy="236.62" r="2.35"/>
<circle cx="422.1" cy="235.03" r="2.35"/>
<circle cx="423.4" cy="231.75" r="2.35"/>
<circle cx="424.7" cy="229.16" r="2.35"/>
<circle cx="426" cy="228.6" r="2.35"/>
<circle cx="427.3" cy="225.63" r="2.35"/>
<circle cx="428.6" cy="224.92" r="2.35"/>
<circle cx="429.9" cy="224.59" r="2.35"/>
<circle cx="431.2" cy="222.57" r="2.35"/>
<circle cx="432.5" cy="222.69" r="2.35"/>
<circle cx="433.8" cy="226.22" r="2.35"/>
<circle cx="435.1" cy="229" r="2.35"/>
<circle cx="436.4" cy="233.23" r="2.35"/>
<circle cx="437.7" cy="237.1" r="2.35"/>
<circle cx="439" cy="240.29" r="2.35"/>
<circle cx="440.3" cy="243.82" r="2.35"/>
<circle cx="441.6" cy="247.85" r="2.35"/>
<circle cx="442.9" cy="250.3" r="2.35"/>
<circle cx="444.2" cy="252.87" r="2.35"/>
<circle cx="445.5" cy="257.12" r="2.35"/>
<circle cx="446.8" cy="259.99" r="2.35"/>
<circle cx="448.1" cy="263.75" r="2.35"/>
<circle cx="449.4" cy="266.4" r="2.35"/>
<circle cx="450.7" cy="269.99" r="2.35"/>
<circle cx="452" cy="273.3" r="2.35"/>
<circle cx="453.3" cy="277.2" r="2.35"/>
<circle cx="454.6" cy="281.81" r="2.35"/>
<circle cx="455.9" cy="285.08" r="2.35"/>
<circle cx="457.2" cy="289.64" r="2.35"/>
<circle cx="458.5" cy="293.79" r="2.35"/>
<circle cx="459.8" cy="299.25" r="2.35"/>
<circle cx="461.1" cy="301.97" r="2.35"/>
<circle cx="462.4" cy="308.43" r="2.35"/>
<circle cx="463.7" cy="312.13" r="2.35"/>
<circle cx="465" cy="315.58" r="2.35"/>
<circle cx="466.3" cy="317.42" r="2.35"/>
<circle cx="467.6" cy="320.24" r="2.35"/>
<circle cx="468.9" cy="322.84" r="2.35"/>
<circle cx="470.2" cy="323.85" r="2.35"/>
<polyline points="337,323.5 337.56,323.5 338.11,323.5 338.67,323.5 339.23,323.5 339.78,323.5 340.34,323.5 340.9,323.5 341.45,323.5 342.01,323.5 342.56,323.5 343.12,323.5 343.68,323.5 344.23,323.5 344.79,323.5 345.35,323.5 345.9,323.5 346.46,323.5 347.02,323.5 347.57,323.5 348.13,323.5 348.69,323.5 349.24,323.5 349.8,323.5 350.36,323.5 350.91,323.5 351.47,323.5 352.03,323.5 352.58,323.5 353.14,323.5 353.69,323.5 354.25,323.5 354.81,323.5 355.36,323.5 355.92,323.5 356.48,323.5 357.03,323.5 357.59,323.5 358.15,323.5 358.7,323.5 359.26,323.5 359.82,323.5 360.37,323.5 360.93,323.5 361.49,323.5 362.04,323.5 362.6,323.5 363.15,323.5 363.71,323.5 364.27,323.5 364.82,323.5 365.38,323.5 365.94,323.5 366.49,323.5 367.05,323.5 367.61,323.5 368.16,323.5 368.72,323.5 369.28,323.5 369.83,323.5 370.39,323.5 370.95,323.5 371.5,323.5 372.06,323.5 372.62,323.5 373.17,323.5 373.73,323.5 374.28,323.5 374.84,323.5 375.4,323.5 375.95,323.5 376.51,323.5 377.07,323.5 377.62,323.5 378.18,323.5 378.74,323.5 379.29,323.5 379.85,323.5 380.41,323.5 380.96,323.5 381.52,323.5 382.08,323.5 382.63,323.5 383.19,323.5 383.74,323.5 384.3,323.5 384.86,323.5 385.41,323.5 385.97,323.5 386.53,323.5 387.08,323.5 387.64,323.5 388.2,323.5 388.75,323.5 389.31,323.5 389.87,323.5 390.42,323.5 390.98,323.5 391.54,323.49 392.09,323.49 392.65,323.49 393.21,323.49 393.76,323.48 394.32,323.48 394.87,323.47 395.43,323.46 395.99,323.45 396.54,323.43 397.1,323.41 397.66,323.39 398.21,323.36 398.77,323.32 399.33,323.27 399.88,323.22 400.44,323.15 401,323.07 401.55,322.97 402.11,322.85 402.67,322.71 403.22,322.55 403.78,322.36 404.33,322.13 404.89,321.88 405.45,321.58 406,321.25 406.56,320.87 407.12,320.44 407.67,319.97 408.23,319.44 408.79,318.86 409.34,318.23 409.9,317.54 410.46,316.8 411.01,316.01 411.57,315.17 412.13,314.29 412.68,313.38 413.24,312.43 413.79,311.46 414.35,310.48 414.91,309.5 415.46,308.52 416.02,307.56 416.58,306.64 417.13,305.76 417.69,304.93 418.25,304.18 418.8,303.5 419.36,302.92 419.92,302.43 420.47,302.05 421.03,301.78 421.59,301.63 422.14,301.6 422.7,301.69 423.26,301.9 423.81,302.23 424.37,302.66 424.92,303.2 425.48,303.84 426.04,304.55 426.59,305.35 427.15,306.2 427.71,307.11 428.26,308.05 428.82,309.02 429.38,310 429.93,310.98 430.49,311.96 431.05,312.92 431.6,313.85 432.16,314.75 432.72,315.61 433.27,316.42 433.83,317.19 434.38,317.9 434.94,318.56 435.5,319.16 436.05,319.72 436.61,320.22 437.17,320.67 437.72,321.07 438.28,321.42 438.84,321.74 439.39,322.01 439.95,322.25 440.51,322.46 441.06,322.63 441.62,322.78 442.18,322.91 442.73,323.02 443.29,323.11 443.85,323.19 444.4,323.25 444.96,323.3 445.51,323.34 446.07,323.37 446.63,323.4 447.18,323.42 447.74,323.44 448.3,323.45 448.85,323.46 449.41,323.47 449.97,323.48 450.52,323.48 451.08,323.49 451.64,323.49 452.19,323.49 452.75,323.5 453.31,323.5 453.86,323.5 454.42,323.5 454.97,323.5 455.53,323.5 456.09,323.5 456.64,323.5 457.2,323.5 457.76,323.5 458.31,323.5 458.87,323.5 459.43,323.5 459.98,323.5 460.54,323.5 461.1,323.5 461.65,323.5 462.21,323.5 462.77,323.5 463.32,323.5 463.88,323.5 464.44,323.5 464.99,323.5 465.55,323.5 466.1,323.5 466.66,323.5 467.22,323.5 467.77,323.5 468.33,323.5 468.89,323.5 469.44,323.5 470,323.5" fill="none" stroke="#c0c83c" stroke-width="1.2" stroke-linejoin="round"/>
<polyline points="337,323.5 337.56,323.5 338.11,323.5 338.67,323.5 339.23,323.5 339.78,323.5 340.34,323.5 340.9,323.5 341.45,323.5 342.01,323.5 342.56,323.5 343.12,323.5 343.68,323.5 344.23,323.5 344.79,323.5 345.35,323.5 345.9,323.5 346.46,323.5 347.02,323.5 347.57,323.5 348.13,323.5 348.69,323.5 349.24,323.5 349.8,323.5 350.36,323.5 350.91,323.5 351.47,323.5 352.03,323.5 352.58,323.5 353.14,323.5 353.69,323.5 354.25,323.5 354.81,323.5 355.36,323.5 355.92,323.5 356.48,323.5 357.03,323.5 357.59,323.5 358.15,323.5 358.7,323.5 359.26,323.5 359.82,323.5 360.37,323.5 360.93,323.5 361.49,323.5 362.04,323.5 362.6,323.5 363.15,323.5 363.71,323.5 364.27,323.5 364.82,323.5 365.38,323.5 365.94,323.5 366.49,323.5 367.05,323.5 367.61,323.5 368.16,323.5 368.72,323.5 369.28,323.5 369.83,323.5 370.39,323.5 370.95,323.5 371.5,323.5 372.06,323.5 372.62,323.5 373.17,323.5 373.73,323.5 374.28,323.5 374.84,323.5 375.4,323.5 375.95,323.5 376.51,323.5 377.07,323.5 377.62,323.5 378.18,323.5 378.74,323.5 379.29,323.5 379.85,323.5 380.41,323.5 380.96,323.5 381.52,323.5 382.08,323.5 382.63,323.5 383.19,323.5 383.74,323.5 384.3,323.5 384.86,323.5 385.41,323.5 385.97,323.5 386.53,323.5 387.08,323.5 387.64,323.5 388.2,323.5 388.75,323.5 389.31,323.5 389.87,323.5 390.42,323.5 390.98,323.5 391.54,323.5 392.09,323.5 392.65,323.5 393.21,323.5 393.76,323.5 394.32,323.5 394.87,323.5 395.43,323.5 395.99,323.5 396.54,323.5 397.1,323.5 397.66,323.5 398.21,323.5 398.77,323.5 399.33,323.5 399.88,323.5 400.44,323.5 401,323.5 401.55,323.5 402.11,323.5 402.67,323.5 403.22,323.5 403.78,323.5 404.33,323.5 404.89,323.5 405.45,323.5 406,323.5 406.56,323.5 407.12,323.5 407.67,323.5 408.23,323.5 408.79,323.5 409.34,323.5 409.9,323.5 410.46,323.5 411.01,323.5 411.57,323.5 412.13,323.5 412.68,323.5 413.24,323.5 413.79,323.5 414.35,323.5 414.91,323.5 415.46,323.5 416.02,323.5 416.58,323.5 417.13,323.5 417.69,323.5 418.25,323.5 418.8,323.5 419.36,323.5 419.92,323.5 420.47,323.5 421.03,323.5 421.59,323.5 422.14,323.5 422.7,323.5 423.26,323.5 423.81,323.5 424.37,323.5 424.92,323.5 425.48,323.5 426.04,323.5 426.59,323.5 427.15,323.5 427.71,323.5 428.26,323.5 428.82,323.5 429.38,323.5 429.93,323.5 430.49,323.5 431.05,323.5 431.6,323.5 432.16,323.49 432.72,323.49 433.27,323.48 433.83,323.47 434.38,323.46 434.94,323.44 435.5,323.41 436.05,323.37 436.61,323.31 437.17,323.23 437.72,323.13 438.28,322.99 438.84,322.8 439.39,322.56 439.95,322.26 440.51,321.87 441.06,321.39 441.62,320.8 442.18,320.09 442.73,319.24 443.29,318.25 443.85,317.11 444.4,315.82 444.96,314.38 445.51,312.81 446.07,311.11 446.63,309.33 447.18,307.48 447.74,305.62 448.3,303.79 448.85,302.04 449.41,300.42 449.97,298.98 450.52,297.78 451.08,296.85 451.64,296.22 452.19,295.92 452.75,295.94 453.31,296.14 453.86,296.53 454.42,297.09 454.97,297.81 455.53,298.68 456.09,299.67 456.64,300.79 457.2,301.99 457.76,303.26 458.31,304.59 458.87,305.95 459.43,307.32 459.98,308.68 460.54,310.02 461.1,311.32 461.65,312.56 462.21,313.75 462.77,314.86 463.32,315.9 463.88,316.86 464.44,317.74 464.99,318.53 465.55,319.24 466.1,319.88 466.66,320.44 467.22,320.93 467.77,321.36 468.33,321.73 468.89,322.04 469.44,322.31 470,322.53" fill="none" stroke="#c0c83c" stroke-width="1.2" stroke-linejoin="round"/>
<polyline points="337,323.5 337.56,323.5 338.11,323.5 338.67,323.5 339.23,323.5 339.78,323.5 340.34,323.5 340.9,323.5 341.45,323.5 342.01,323.5 342.56,323.5 343.12,323.5 343.68,323.5 344.23,323.5 344.79,323.5 345.35,323.5 345.9,323.5 346.46,323.5 347.02,323.5 347.57,323.5 348.13,323.5 348.69,323.5 349.24,323.5 349.8,323.5 350.36,323.5 350.91,323.5 351.47,323.5 352.03,323.5 352.58,323.5 353.14,323.5 353.69,323.5 354.25,323.5 354.81,323.5 355.36,323.5 355.92,323.5 356.48,323.5 357.03,323.5 357.59,323.5 358.15,323.5 358.7,323.5 359.26,323.5 359.82,323.5 360.37,323.5 360.93,323.5 361.49,323.5 362.04,323.5 362.6,323.5 363.15,323.5 363.71,323.5 364.27,323.5 364.82,323.5 365.38,323.5 365.94,323.5 366.49,323.5 367.05,323.49 367.61,323.49 368.16,323.49 368.72,323.49 369.28,323.48 369.83,323.48 370.39,323.47 370.95,323.47 371.5,323.46 372.06,323.45 372.62,323.43 373.17,323.42 373.73,323.4 374.28,323.38 374.84,323.35 375.4,323.31 375.95,323.27 376.51,323.22 377.07,323.16 377.62,323.09 378.18,323 378.74,322.91 379.29,322.79 379.85,322.65 380.41,322.49 380.96,322.31 381.52,322.09 382.08,321.85 382.63,321.56 383.19,321.24 383.74,320.87 384.3,320.46 384.86,319.99 385.41,319.46 385.97,318.87 386.53,318.21 387.08,317.48 387.64,316.67 388.2,315.78 388.75,314.81 389.31,313.75 389.87,312.61 390.42,311.37 390.98,310.03 391.54,308.61 392.09,307.09 392.65,305.48 393.21,303.79 393.76,302.01 394.32,300.15 394.87,298.23 395.43,296.25 395.99,294.21 396.54,292.14 397.1,290.04 397.66,287.92 398.21,285.81 398.77,283.72 399.33,281.65 399.88,279.64 400.44,277.7 401,275.84 401.55,274.08 402.11,272.45 402.67,270.94 403.22,269.59 403.78,268.39 404.33,267.38 404.89,266.54 405.45,265.91 406,265.47 406.56,265.24 407.12,265.22 407.67,265.4 408.23,265.79 408.79,266.39 409.34,267.18 409.9,268.15 410.46,269.31 411.01,270.63 411.57,272.1 412.13,273.71 412.68,275.45 413.24,277.28 413.79,279.21 414.35,281.21 414.91,283.26 415.46,285.35 416.02,287.46 416.58,289.57 417.13,291.68 417.69,293.76 418.25,295.8 418.8,297.8 419.36,299.74 419.92,301.61 420.47,303.4 421.03,305.12 421.59,306.74 422.14,308.28 422.7,309.73 423.26,311.08 423.81,312.34 424.37,313.51 424.92,314.59 425.48,315.58 426.04,316.48 426.59,317.31 427.15,318.05 427.71,318.73 428.26,319.33 428.82,319.87 429.38,320.36 429.93,320.79 430.49,321.16 431.05,321.5 431.6,321.79 432.16,322.04 432.72,322.26 433.27,322.45 433.83,322.62 434.38,322.76 434.94,322.88 435.5,322.98 436.05,323.07 436.61,323.15 437.17,323.21 437.72,323.26 438.28,323.3 438.84,323.34 439.39,323.37 439.95,323.39 440.51,323.41 441.06,323.43 441.62,323.45 442.18,323.46 442.73,323.47 443.29,323.47 443.85,323.48 444.4,323.48 444.96,323.49 445.51,323.49 446.07,323.49 446.63,323.49 447.18,323.5 447.74,323.5 448.3,323.5 448.85,323.5 449.41,323.5 449.97,323.5 450.52,323.5 451.08,323.5 451.64,323.5 452.19,323.5 452.75,323.5 453.31,323.5 453.86,323.5 454.42,323.5 454.97,323.5 455.53,323.5 456.09,323.5 456.64,323.5 457.2,323.5 457.76,323.5 458.31,323.5 458.87,323.5 459.43,323.5 459.98,323.5 460.54,323.5 461.1,323.5 461.65,323.5 462.21,323.5 462.77,323.5 463.32,323.5 463.88,323.5 464.44,323.5 464.99,323.5 465.55,323.5 466.1,323.5 466.66,323.5 467.22,323.5 467.77,323.5 468.33,323.5 468.89,323.5 469.44,323.5 470,323.5" fill="none" stroke="#2f7838" stroke-width="1.5" stroke-linejoin="round"/>
<polyline points="337,323.5 337.56,323.5 338.11,323.5 338.67,323.5 339.23,323.5 339.78,323.5 340.34,323.5 340.9,323.5 341.45,323.5 342.01,323.5 342.56,323.5 343.12,323.5 343.68,323.5 344.23,323.5 344.79,323.5 345.35,323.5 345.9,323.5 346.46,323.5 347.02,323.5 347.57,323.5 348.13,323.5 348.69,323.5 349.24,323.5 349.8,323.5 350.36,323.5 350.91,323.5 351.47,323.5 352.03,323.5 352.58,323.5 353.14,323.5 353.69,323.5 354.25,323.5 354.81,323.5 355.36,323.5 355.92,323.5 356.48,323.5 357.03,323.5 357.59,323.5 358.15,323.5 358.7,323.5 359.26,323.5 359.82,323.5 360.37,323.5 360.93,323.5 361.49,323.5 362.04,323.5 362.6,323.5 363.15,323.5 363.71,323.5 364.27,323.5 364.82,323.5 365.38,323.5 365.94,323.5 366.49,323.5 367.05,323.5 367.61,323.5 368.16,323.5 368.72,323.5 369.28,323.5 369.83,323.5 370.39,323.5 370.95,323.5 371.5,323.5 372.06,323.5 372.62,323.5 373.17,323.5 373.73,323.5 374.28,323.5 374.84,323.5 375.4,323.5 375.95,323.5 376.51,323.5 377.07,323.5 377.62,323.5 378.18,323.5 378.74,323.5 379.29,323.5 379.85,323.5 380.41,323.5 380.96,323.5 381.52,323.5 382.08,323.5 382.63,323.5 383.19,323.5 383.74,323.5 384.3,323.5 384.86,323.5 385.41,323.5 385.97,323.5 386.53,323.5 387.08,323.5 387.64,323.5 388.2,323.5 388.75,323.5 389.31,323.5 389.87,323.5 390.42,323.5 390.98,323.5 391.54,323.5 392.09,323.5 392.65,323.5 393.21,323.5 393.76,323.5 394.32,323.5 394.87,323.5 395.43,323.5 395.99,323.5 396.54,323.5 397.1,323.5 397.66,323.5 398.21,323.5 398.77,323.5 399.33,323.49 399.88,323.49 400.44,323.49 401,323.49 401.55,323.48 402.11,323.48 402.67,323.47 403.22,323.47 403.78,323.46 404.33,323.44 404.89,323.43 405.45,323.41 406,323.38 406.56,323.35 407.12,323.31 407.67,323.27 408.23,323.21 408.79,323.14 409.34,323.05 409.9,322.95 410.46,322.82 411.01,322.68 411.57,322.5 412.13,322.29 412.68,322.04 413.24,321.75 413.79,321.41 414.35,321.01 414.91,320.55 415.46,320.02 416.02,319.42 416.58,318.73 417.13,317.94 417.69,317.06 418.25,316.06 418.8,314.95 419.36,313.72 419.92,312.35 420.47,310.85 421.03,309.21 421.59,307.43 422.14,305.49 422.7,303.42 423.26,301.19 423.81,298.83 424.37,296.34 424.92,293.72 425.48,290.98 426.04,288.15 426.59,285.24 427.15,282.26 427.71,279.24 428.26,276.21 428.82,273.18 429.38,270.19 429.93,267.26 430.49,264.42 431.05,261.71 431.6,259.14 432.16,256.76 432.72,254.59 433.27,252.64 433.83,250.96 434.38,249.55 434.94,248.44 435.5,247.64 436.05,247.16 436.61,247 437.17,247.17 437.72,247.67 438.28,248.48 438.84,249.6 439.39,251.02 439.95,252.72 440.51,254.67 441.06,256.85 441.62,259.24 442.18,261.81 442.73,264.53 443.29,267.37 443.85,270.3 444.4,273.3 444.96,276.33 445.51,279.36 446.07,282.38 446.63,285.35 447.18,288.26 447.74,291.09 448.3,293.82 448.85,296.44 449.41,298.93 449.97,301.28 450.52,303.5 451.08,305.57 451.64,307.5 452.19,309.28 452.75,310.91 453.31,312.41 453.86,313.77 454.42,315 454.97,316.11 455.53,317.1 456.09,317.98 456.64,318.76 457.2,319.44 457.76,320.05 458.31,320.57 458.87,321.03 459.43,321.42 459.98,321.76 460.54,322.05 461.1,322.3 461.65,322.51 462.21,322.68 462.77,322.83 463.32,322.95 463.88,323.06 464.44,323.14 464.99,323.21 465.55,323.27 466.1,323.31 466.66,323.35 467.22,323.38 467.77,323.41 468.33,323.43 468.89,323.44 469.44,323.46 470,323.47" fill="none" stroke="#2f7838" stroke-width="1.5" stroke-linejoin="round"/>
<polyline points="337,323.5 337.56,323.49 338.11,323.49 338.67,323.49 339.23,323.49 339.78,323.49 340.34,323.49 340.9,323.48 341.45,323.48 342.01,323.48 342.56,323.47 343.12,323.47 343.68,323.47 344.23,323.46 344.79,323.45 345.35,323.44 345.9,323.44 346.46,323.43 347.02,323.41 347.57,323.4 348.13,323.38 348.69,323.37 349.24,323.35 349.8,323.33 350.36,323.3 350.91,323.27 351.47,323.24 352.03,323.2 352.58,323.16 353.14,323.12 353.69,323.07 354.25,323.01 354.81,322.95 355.36,322.88 355.92,322.81 356.48,322.73 357.03,322.64 357.59,322.54 358.15,322.43 358.7,322.31 359.26,322.18 359.82,322.04 360.37,321.89 360.93,321.73 361.49,321.55 362.04,321.36 362.6,321.15 363.15,320.93 363.71,320.7 364.27,320.45 364.82,320.19 365.38,319.91 365.94,319.61 366.49,319.3 367.05,318.97 367.61,318.63 368.16,318.27 368.72,317.89 369.28,317.5 369.83,317.1 370.39,316.68 370.95,316.25 371.5,315.8 372.06,315.35 372.62,314.88 373.17,314.41 373.73,313.93 374.28,313.44 374.84,312.95 375.4,312.46 375.95,311.97 376.51,311.48 377.07,311 377.62,310.52 378.18,310.05 378.74,309.59 379.29,309.14 379.85,308.71 380.41,308.29 380.96,307.9 381.52,307.52 382.08,307.17 382.63,306.85 383.19,306.55 383.74,306.28 384.3,306.04 384.86,305.83 385.41,305.66 385.97,305.52 386.53,305.41 387.08,305.34 387.64,305.3 388.2,305.31 388.75,305.34 389.31,305.42 389.87,305.52 390.42,305.67 390.98,305.84 391.54,306.05 392.09,306.3 392.65,306.57 393.21,306.87 393.76,307.19 394.32,307.55 394.87,307.92 395.43,308.32 395.99,308.74 396.54,309.17 397.1,309.62 397.66,310.08 398.21,310.55 398.77,311.03 399.33,311.52 399.88,312 400.44,312.5 401,312.99 401.55,313.48 402.11,313.96 402.67,314.44 403.22,314.91 403.78,315.38 404.33,315.83 404.89,316.27 405.45,316.71 406,317.12 406.56,317.53 407.12,317.92 407.67,318.29 408.23,318.65 408.79,318.99 409.34,319.32 409.9,319.63 410.46,319.93 411.01,320.21 411.57,320.47 412.13,320.72 412.68,320.95 413.24,321.17 413.79,321.37 414.35,321.56 414.91,321.74 415.46,321.9 416.02,322.05 416.58,322.19 417.13,322.32 417.69,322.44 418.25,322.54 418.8,322.64 419.36,322.73 419.92,322.82 420.47,322.89 421.03,322.96 421.59,323.02 422.14,323.07 422.7,323.12 423.26,323.17 423.81,323.21 424.37,323.24 424.92,323.27 425.48,323.3 426.04,323.33 426.59,323.35 427.15,323.37 427.71,323.39 428.26,323.4 428.82,323.41 429.38,323.43 429.93,323.44 430.49,323.45 431.05,323.45 431.6,323.46 432.16,323.47 432.72,323.47 433.27,323.47 433.83,323.48 434.38,323.48 434.94,323.48 435.5,323.49 436.05,323.49 436.61,323.49 437.17,323.49 437.72,323.49 438.28,323.49 438.84,323.5 439.39,323.5 439.95,323.5 440.51,323.5 441.06,323.5 441.62,323.5 442.18,323.5 442.73,323.5 443.29,323.5 443.85,323.5 444.4,323.5 444.96,323.5 445.51,323.5 446.07,323.5 446.63,323.5 447.18,323.5 447.74,323.5 448.3,323.5 448.85,323.5 449.41,323.5 449.97,323.5 450.52,323.5 451.08,323.5 451.64,323.5 452.19,323.5 452.75,323.5 453.31,323.5 453.86,323.5 454.42,323.5 454.97,323.5 455.53,323.5 456.09,323.5 456.64,323.5 457.2,323.5 457.76,323.5 458.31,323.5 458.87,323.5 459.43,323.5 459.98,323.5 460.54,323.5 461.1,323.5 461.65,323.5 462.21,323.5 462.77,323.5 463.32,323.5 463.88,323.5 464.44,323.5 464.99,323.5 465.55,323.5 466.1,323.5 466.66,323.5 467.22,323.5 467.77,323.5 468.33,323.5 468.89,323.5 469.44,323.5 470,323.5" fill="none" stroke="#3a3ab8" stroke-width="1.5" stroke-linejoin="round"/>
<polyline points="337,323.5 337.56,323.5 338.11,323.5 338.67,323.5 339.23,323.5 339.78,323.5 340.34,323.5 340.9,323.5 341.45,323.5 342.01,323.5 342.56,323.5 343.12,323.5 343.68,323.5 344.23,323.5 344.79,323.5 345.35,323.5 345.9,323.5 346.46,323.5 347.02,323.5 347.57,323.5 348.13,323.5 348.69,323.5 349.24,323.5 349.8,323.5 350.36,323.5 350.91,323.5 351.47,323.5 352.03,323.5 352.58,323.5 353.14,323.5 353.69,323.5 354.25,323.5 354.81,323.5 355.36,323.5 355.92,323.5 356.48,323.5 357.03,323.5 357.59,323.5 358.15,323.5 358.7,323.5 359.26,323.5 359.82,323.5 360.37,323.5 360.93,323.5 361.49,323.5 362.04,323.5 362.6,323.5 363.15,323.5 363.71,323.5 364.27,323.49 364.82,323.49 365.38,323.49 365.94,323.49 366.49,323.49 367.05,323.49 367.61,323.49 368.16,323.48 368.72,323.48 369.28,323.48 369.83,323.47 370.39,323.47 370.95,323.46 371.5,323.46 372.06,323.45 372.62,323.44 373.17,323.43 373.73,323.42 374.28,323.41 374.84,323.4 375.4,323.38 375.95,323.37 376.51,323.35 377.07,323.32 377.62,323.3 378.18,323.27 378.74,323.24 379.29,323.2 379.85,323.17 380.41,323.12 380.96,323.07 381.52,323.02 382.08,322.96 382.63,322.89 383.19,322.82 383.74,322.74 384.3,322.65 384.86,322.55 385.41,322.44 385.97,322.33 386.53,322.2 387.08,322.06 387.64,321.91 388.2,321.75 388.75,321.57 389.31,321.39 389.87,321.18 390.42,320.96 390.98,320.73 391.54,320.48 392.09,320.21 392.65,319.93 393.21,319.63 393.76,319.31 394.32,318.97 394.87,318.62 395.43,318.25 395.99,317.85 396.54,317.45 397.1,317.02 397.66,316.57 398.21,316.11 398.77,315.64 399.33,315.14 399.88,314.64 400.44,314.12 401,313.58 401.55,313.04 402.11,312.49 402.67,311.92 403.22,311.35 403.78,310.78 404.33,310.21 404.89,309.63 405.45,309.06 406,308.48 406.56,307.92 407.12,307.36 407.67,306.82 408.23,306.28 408.79,305.77 409.34,305.27 409.9,304.79 410.46,304.33 411.01,303.9 411.57,303.49 412.13,303.12 412.68,302.77 413.24,302.46 413.79,302.18 414.35,301.94 414.91,301.74 415.46,301.57 416.02,301.44 416.58,301.36 417.13,301.31 417.69,301.3 418.25,301.34 418.8,301.41 419.36,301.53 419.92,301.68 420.47,301.87 421.03,302.1 421.59,302.37 422.14,302.67 422.7,303.01 423.26,303.37 423.81,303.77 424.37,304.19 424.92,304.64 425.48,305.11 426.04,305.61 426.59,306.12 427.15,306.65 427.71,307.19 428.26,307.74 428.82,308.3 429.38,308.87 429.93,309.45 430.49,310.02 431.05,310.6 431.6,311.17 432.16,311.74 432.72,312.31 433.27,312.87 433.83,313.41 434.38,313.95 434.94,314.47 435.5,314.99 436.05,315.48 436.61,315.97 437.17,316.43 437.72,316.88 438.28,317.31 438.84,317.73 439.39,318.12 439.95,318.5 440.51,318.86 441.06,319.2 441.62,319.53 442.18,319.84 442.73,320.12 443.29,320.4 443.85,320.65 444.4,320.89 444.96,321.11 445.51,321.32 446.07,321.52 446.63,321.7 447.18,321.86 447.74,322.02 448.3,322.16 448.85,322.29 449.41,322.41 449.97,322.52 450.52,322.62 451.08,322.71 451.64,322.79 452.19,322.87 452.75,322.94 453.31,323 453.86,323.06 454.42,323.11 454.97,323.15 455.53,323.19 456.09,323.23 456.64,323.26 457.2,323.29 457.76,323.32 458.31,323.34 458.87,323.36 459.43,323.38 459.98,323.39 460.54,323.41 461.1,323.42 461.65,323.43 462.21,323.44 462.77,323.45 463.32,323.46 463.88,323.46 464.44,323.47 464.99,323.47 465.55,323.48 466.1,323.48 466.66,323.48 467.22,323.49 467.77,323.49 468.33,323.49 468.89,323.49 469.44,323.49 470,323.49" fill="none" stroke="#3a3ab8" stroke-width="1.5" stroke-linejoin="round"/>
<line x1="352" y1="323.4" x2="428" y2="323.4" stroke="#c0c83c" stroke-width="1.4"/>
<path d="M369.8,299.5 L420,299.5" fill="none" stroke="#8a8a8a" stroke-width="1"/>
<text x="337.6" y="303.5" font-size="13.5" fill="#3535c8" stroke="#3535c8" stroke-width="0.3" text-anchor="start">Ta-O</text>
<path d="M437,246.5 L437.5,242.7 L450,242.7" fill="none" stroke="#8a8a8a" stroke-width="1"/>
<text x="451.2" y="246.2" font-size="13.5" fill="#2b8232" stroke="#2b8232" stroke-width="0.3" text-anchor="start">Ta-N</text>
<path d="M452.5,295.5 L452.9,290.9 L465.5,290.9" fill="none" stroke="#8a8a8a" stroke-width="1"/>
<text x="466.2" y="295.8" font-size="13.5" fill="#c0c83c" stroke="#c0c83c" stroke-width="0.3" text-anchor="start">Ta<tspan dx="1" dy="-5.5" font-size="9.5">0</tspan></text>
<rect x="47.5" y="405.5" width="185" height="132" fill="none" stroke="#5e5e5e" stroke-width="1.2"/>
<line x1="47.5" y1="405.5" x2="47.5" y2="408" stroke="#5e5e5e" stroke-width="1.1"/>
<line x1="47.5" y1="537.5" x2="47.5" y2="535" stroke="#5e5e5e" stroke-width="1.1"/>
<text x="47.5" y="550.2" font-size="11.5" fill="#1a1a1a" stroke="#1a1a1a" stroke-width="0.3" text-anchor="middle">415</text>
<line x1="78.33" y1="405.5" x2="78.33" y2="408" stroke="#5e5e5e" stroke-width="1.1"/>
<line x1="78.33" y1="537.5" x2="78.33" y2="535" stroke="#5e5e5e" stroke-width="1.1"/>
<text x="78.33" y="550.2" font-size="11.5" fill="#1a1a1a" stroke="#1a1a1a" stroke-width="0.3" text-anchor="middle">410</text>
<line x1="109.17" y1="405.5" x2="109.17" y2="408" stroke="#5e5e5e" stroke-width="1.1"/>
<line x1="109.17" y1="537.5" x2="109.17" y2="535" stroke="#5e5e5e" stroke-width="1.1"/>
<text x="109.17" y="550.2" font-size="11.5" fill="#1a1a1a" stroke="#1a1a1a" stroke-width="0.3" text-anchor="middle">405</text>
<line x1="140" y1="405.5" x2="140" y2="408" stroke="#5e5e5e" stroke-width="1.1"/>
<line x1="140" y1="537.5" x2="140" y2="535" stroke="#5e5e5e" stroke-width="1.1"/>
<text x="140" y="550.2" font-size="11.5" fill="#1a1a1a" stroke="#1a1a1a" stroke-width="0.3" text-anchor="middle">400</text>
<line x1="170.83" y1="405.5" x2="170.83" y2="408" stroke="#5e5e5e" stroke-width="1.1"/>
<line x1="170.83" y1="537.5" x2="170.83" y2="535" stroke="#5e5e5e" stroke-width="1.1"/>
<text x="170.83" y="550.2" font-size="11.5" fill="#1a1a1a" stroke="#1a1a1a" stroke-width="0.3" text-anchor="middle">395</text>
<line x1="201.67" y1="405.5" x2="201.67" y2="408" stroke="#5e5e5e" stroke-width="1.1"/>
<line x1="201.67" y1="537.5" x2="201.67" y2="535" stroke="#5e5e5e" stroke-width="1.1"/>
<text x="201.67" y="550.2" font-size="11.5" fill="#1a1a1a" stroke="#1a1a1a" stroke-width="0.3" text-anchor="middle">390</text>
<line x1="232.5" y1="405.5" x2="232.5" y2="408" stroke="#5e5e5e" stroke-width="1.1"/>
<line x1="232.5" y1="537.5" x2="232.5" y2="535" stroke="#5e5e5e" stroke-width="1.1"/>
<text x="232.5" y="550.2" font-size="11.5" fill="#1a1a1a" stroke="#1a1a1a" stroke-width="0.3" text-anchor="middle">385</text>
<text x="140" y="565.5" font-size="15.6" fill="#1a1a1a" stroke="#1a1a1a" stroke-width="0.3" text-anchor="middle">Binding Energy (eV)</text>
<text transform="translate(38.1,469.9) rotate(-90) scale(1,1.08)" font-size="15.65" fill="#1a1a1a" stroke="#1a1a1a" stroke-width="0.3" text-anchor="middle">XPS Intensity (A.U.)</text>
<text x="1" y="563.5" font-size="21" fill="#111" stroke="#111" stroke-width="0.3" text-anchor="start">(c)</text>
<text x="58" y="421.4" font-size="13.5" fill="#111" stroke="#111" stroke-width="0.3" text-anchor="start">N 1s</text>
<circle cx="80.38" cy="504.96" r="2.3"/>
<circle cx="84" cy="510.84" r="2.3"/>
<circle cx="83.72" cy="506.84" r="2.3"/>
<circle cx="80.71" cy="510.29" r="2.3"/>
<circle cx="81.72" cy="505.32" r="2.3"/>
<circle cx="83.3" cy="506.21" r="2.3"/>
<circle cx="85.81" cy="503.12" r="2.3"/>
<circle cx="85.75" cy="503.55" r="2.3"/>
<circle cx="87.52" cy="507.64" r="2.3"/>
<circle cx="88.6" cy="505.84" r="2.3"/>
<circle cx="88.32" cy="502.71" r="2.3"/>
<circle cx="89.74" cy="501.07" r="2.3"/>
<circle cx="91.14" cy="498.31" r="2.3"/>
<circle cx="91.44" cy="500.57" r="2.3"/>
<circle cx="93.49" cy="500.54" r="2.3"/>
<circle cx="97.09" cy="499.65" r="2.3"/>
<circle cx="95.38" cy="498.83" r="2.3"/>
<circle cx="95.14" cy="495.95" r="2.3"/>
<circle cx="92.48" cy="497.22" r="2.3"/>
<circle cx="97.44" cy="496.42" r="2.3"/>
<circle cx="93.57" cy="498.21" r="2.3"/>
<circle cx="95.42" cy="498.47" r="2.3"/>
<circle cx="100.71" cy="493.54" r="2.3"/>
<circle cx="101.14" cy="491.33" r="2.3"/>
<circle cx="100.11" cy="491.75" r="2.3"/>
<circle cx="97.63" cy="489.65" r="2.3"/>
<circle cx="100.89" cy="488.33" r="2.3"/>
<circle cx="100.85" cy="488.63" r="2.3"/>
<circle cx="104.05" cy="485.59" r="2.3"/>
<circle cx="107.86" cy="487.82" r="2.3"/>
<circle cx="104.36" cy="485.33" r="2.3"/>
<circle cx="102.94" cy="484.96" r="2.3"/>
<circle cx="102.74" cy="483.02" r="2.3"/>
<circle cx="105.53" cy="480.84" r="2.3"/>
<circle cx="105.85" cy="479.3" r="2.3"/>
<circle cx="104.44" cy="479.62" r="2.3"/>
<circle cx="107.51" cy="477.89" r="2.3"/>
<circle cx="105.51" cy="478.33" r="2.3"/>
<circle cx="110.55" cy="476.73" r="2.3"/>
<circle cx="110.97" cy="472.89" r="2.3"/>
<circle cx="111.52" cy="474.61" r="2.3"/>
<circle cx="108.91" cy="470.65" r="2.3"/>
<circle cx="111.4" cy="470.96" r="2.3"/>
<circle cx="110.61" cy="470.46" r="2.3"/>
<circle cx="110.59" cy="465.75" r="2.3"/>
<circle cx="111.19" cy="468.93" r="2.3"/>
<circle cx="109.75" cy="467.88" r="2.3"/>
<circle cx="109.95" cy="466.1" r="2.3"/>
<circle cx="114.9" cy="464.4" r="2.3"/>
<circle cx="113.39" cy="463.32" r="2.3"/>
<circle cx="114.67" cy="460.93" r="2.3"/>
<circle cx="116.7" cy="461.16" r="2.3"/>
<circle cx="111.68" cy="459.41" r="2.3"/>
<circle cx="114.04" cy="459.5" r="2.3"/>
<circle cx="116.42" cy="455.72" r="2.3"/>
<circle cx="117.31" cy="457.4" r="2.3"/>
<circle cx="116.24" cy="456.02" r="2.3"/>
<circle cx="119.51" cy="454.25" r="2.3"/>
<circle cx="118.33" cy="452.46" r="2.3"/>
<circle cx="115.95" cy="453.24" r="2.3"/>
<circle cx="116.97" cy="447.59" r="2.3"/>
<circle cx="120.89" cy="450.63" r="2.3"/>
<circle cx="120.66" cy="448.98" r="2.3"/>
<circle cx="116.42" cy="447.84" r="2.3"/>
<circle cx="123.23" cy="446.76" r="2.3"/>
<circle cx="122.23" cy="443.48" r="2.3"/>
<circle cx="124.04" cy="442.83" r="2.3"/>
<circle cx="121.48" cy="442.93" r="2.3"/>
<circle cx="122.21" cy="440.97" r="2.3"/>
<circle cx="121.47" cy="438.91" r="2.3"/>
<circle cx="127.77" cy="434.5" r="2.3"/>
<circle cx="124.26" cy="435.76" r="2.3"/>
<circle cx="127.4" cy="434.63" r="2.3"/>
<circle cx="125.19" cy="432.28" r="2.3"/>
<circle cx="127.07" cy="429.11" r="2.3"/>
<circle cx="126.09" cy="424.92" r="2.3"/>
<circle cx="128.65" cy="425.06" r="2.3"/>
<circle cx="131.11" cy="421.57" r="2.3"/>
<circle cx="131.13" cy="417.28" r="2.3"/>
<circle cx="135.32" cy="418.74" r="2.3"/>
<circle cx="135.7" cy="420.07" r="2.3"/>
<circle cx="135.39" cy="423.12" r="2.3"/>
<circle cx="136.71" cy="426.52" r="2.3"/>
<circle cx="137.54" cy="430.94" r="2.3"/>
<circle cx="139.52" cy="431.59" r="2.3"/>
<circle cx="141.92" cy="431.29" r="2.3"/>
<circle cx="143.93" cy="434.17" r="2.3"/>
<circle cx="145.46" cy="436.83" r="2.3"/>
<circle cx="145.69" cy="438.37" r="2.3"/>
<circle cx="146.23" cy="441.16" r="2.3"/>
<circle cx="147.91" cy="443.26" r="2.3"/>
<circle cx="149.65" cy="446.43" r="2.3"/>
<circle cx="148.49" cy="444.46" r="2.3"/>
<circle cx="150.19" cy="441.47" r="2.3"/>
<circle cx="150.22" cy="438.29" r="2.3"/>
<circle cx="150.51" cy="436.05" r="2.3"/>
<circle cx="152.54" cy="431.69" r="2.3"/>
<circle cx="152.09" cy="429.34" r="2.3"/>
<circle cx="154.44" cy="427.06" r="2.3"/>
<circle cx="153.83" cy="425.04" r="2.3"/>
<circle cx="155.38" cy="428.36" r="2.3"/>
<circle cx="155.4" cy="430.78" r="2.3"/>
<circle cx="155.69" cy="433.12" r="2.3"/>
<circle cx="157.54" cy="436.56" r="2.3"/>
<circle cx="157.63" cy="438.39" r="2.3"/>
<circle cx="158.83" cy="440.82" r="2.3"/>
<circle cx="158.83" cy="445.55" r="2.3"/>
<circle cx="158.41" cy="448.01" r="2.3"/>
<circle cx="159.51" cy="451.29" r="2.3"/>
<circle cx="159.86" cy="452.67" r="2.3"/>
<circle cx="160.78" cy="456.73" r="2.3"/>
<circle cx="159.46" cy="459.53" r="2.3"/>
<circle cx="160.38" cy="462.23" r="2.3"/>
<circle cx="159.2" cy="463.88" r="2.3"/>
<circle cx="161.68" cy="468.3" r="2.3"/>
<circle cx="160.6" cy="472.08" r="2.3"/>
<circle cx="160.41" cy="474.09" r="2.3"/>
<circle cx="162.66" cy="475.41" r="2.3"/>
<circle cx="164.28" cy="478.21" r="2.3"/>
<circle cx="161.72" cy="481.16" r="2.3"/>
<circle cx="162.52" cy="479.22" r="2.3"/>
<circle cx="163.56" cy="483.99" r="2.3"/>
<circle cx="163.91" cy="486.32" r="2.3"/>
<circle cx="166.68" cy="487.78" r="2.3"/>
<circle cx="165.8" cy="490.31" r="2.3"/>
<circle cx="166.68" cy="490.61" r="2.3"/>
<circle cx="169.39" cy="490.45" r="2.3"/>
<circle cx="168.07" cy="491.54" r="2.3"/>
<circle cx="170.48" cy="493.4" r="2.3"/>
<circle cx="169.01" cy="492.55" r="2.3"/>
<circle cx="169.35" cy="494.39" r="2.3"/>
<circle cx="169.26" cy="496.8" r="2.3"/>
<circle cx="175.72" cy="499.29" r="2.3"/>
<circle cx="173.27" cy="497.13" r="2.3"/>
<circle cx="174.71" cy="498.44" r="2.3"/>
<circle cx="174.75" cy="500.03" r="2.3"/>
<circle cx="175.46" cy="502.98" r="2.3"/>
<circle cx="175.73" cy="502.14" r="2.3"/>
<circle cx="179.05" cy="505.58" r="2.3"/>
<circle cx="175.28" cy="503.05" r="2.3"/>
<circle cx="175.21" cy="505.31" r="2.3"/>
<circle cx="176.8" cy="506.34" r="2.3"/>
<circle cx="177.14" cy="508.82" r="2.3"/>
<circle cx="181.14" cy="510.17" r="2.3"/>
<circle cx="182.2" cy="507.23" r="2.3"/>
<circle cx="180.47" cy="509.01" r="2.3"/>
<circle cx="180.72" cy="511.83" r="2.3"/>
<circle cx="183.11" cy="511.33" r="2.3"/>
<circle cx="186.54" cy="511.06" r="2.3"/>
<polyline points="80.3,510.6 80.7,510.16 81.1,509.72 81.5,509.3 81.9,508.89 82.3,508.5 82.7,508.12 83.1,507.76 83.5,507.42 83.9,507.1 84.3,506.79 84.7,506.5 85.1,506.22 85.5,505.95 85.9,505.68 86.3,505.41 86.7,505.14 87.1,504.86 87.5,504.57 87.9,504.28 88.3,503.98 88.7,503.67 89.1,503.37 89.5,503.06 89.9,502.75 90.3,502.44 90.7,502.12 91.1,501.79 91.5,501.46 91.9,501.11 92.3,500.76 92.7,500.41 93.1,500.05 93.5,499.68 93.9,499.3 94.3,498.92 94.7,498.53 95.1,498.13 95.5,497.72 95.9,497.31 96.3,496.88 96.7,496.46 97.1,496.02 97.5,495.58 97.9,495.13 98.3,494.67 98.7,494.19 99.1,493.69 99.5,493.17 99.9,492.62 100.3,492.05 100.7,491.43 101.1,490.77 101.5,490.06 101.9,489.32 102.3,488.57 102.7,487.81 103.1,487.06 103.5,486.32 103.9,485.58 104.3,484.84 104.7,484.09 105.1,483.34 105.5,482.57 105.9,481.79 106.3,481 106.7,480.19 107.1,479.37 107.5,478.52 107.9,477.67 108.3,476.8 108.7,475.92 109.1,475.04 109.5,474.15 109.9,473.25 110.3,472.35 110.7,471.44 111.1,470.52 111.5,469.6 111.9,468.66 112.3,467.71 112.7,466.74 113.1,465.76 113.5,464.76 113.9,463.75 114.3,462.72 114.7,461.68 115.1,460.64 115.5,459.6 115.9,458.56 116.3,457.52 116.7,456.49 117.1,455.45 117.5,454.42 117.9,453.37 118.3,452.32 118.7,451.27 119.1,450.2 119.5,449.12 119.9,448.04 120.3,446.95 120.7,445.85 121.1,444.74 121.5,443.63 121.9,442.52 122.3,441.4 122.7,440.27 123.1,439.11 123.5,437.93 123.9,436.76 124.3,435.6 124.7,434.46 125.1,433.36 125.5,432.3 125.9,431.27 126.3,430.26 126.7,429.27 127.1,428.3 127.5,427.37 127.9,426.47 128.3,425.61 128.7,424.8 129.1,424 129.5,423.21 129.9,422.45 130.3,421.73 130.7,421.07 131.1,420.49 131.5,420 131.9,419.56 132.3,419.12 132.7,418.71 133.1,418.37 133.5,418.12 133.9,418.01 134.3,418.19 134.7,418.94 135.1,420.11 135.5,421.53 135.9,423.01 136.3,424.4 136.7,425.6 137.1,426.99 137.5,428.47 137.9,429.89 138.3,431.06 138.7,431.81 139.1,432 139.5,431.9 139.9,431.72 140.3,431.5 140.7,431.28 141.1,431.1 141.5,431 141.9,431.01 142.3,431.06 142.7,431.15 143.1,431.27 143.5,431.42 143.9,431.64 144.3,432.19 144.7,433 145.1,433.98 145.5,435 145.9,436.19 146.3,437.64 146.7,439.21 147.1,440.77 147.5,442.28 147.9,444.07 148.3,445.75 148.7,446.84 149.1,446.78 149.5,445.28 149.9,442.94 150.3,440.47 150.7,438.41 151.1,436.31 151.5,434.16 151.9,432.09 152.3,430.21 152.7,428.62 153.1,427.01 153.5,425.52 153.9,424.47 154.3,424.26 154.7,425.49 155.1,427.69 155.5,430.03 155.9,431.83 156.3,433.38 156.7,434.86 157.1,436.38 157.5,438.02 157.9,439.88 158.3,441.88 158.7,444.08 159.1,446.69 159.5,449.94 159.9,455.3 160.3,461.43 160.7,466 161.1,468.64 161.5,470.71 161.9,472.45 162.3,474.12 162.7,475.95 163.1,478.26 163.5,481.03 163.9,482.8 164.3,483.82 164.7,484.63 165.1,485.28 165.5,485.86 165.9,486.45 166.3,487.05 166.7,487.6 167.1,488.12 167.5,488.62 167.9,489.13 168.3,489.67 168.7,490.25 169.1,490.91 169.5,491.61 169.9,492.34 170.3,493.06 170.7,493.74 171.1,494.36 171.5,494.88 171.9,495.33 172.3,495.73 172.7,496.12 173.1,496.54 173.5,497.02 173.9,497.6 174.3,498.41 174.7,499.45 175.1,500.62 175.5,501.77 175.9,502.78 176.3,503.57 176.7,504.27 177.1,504.91 177.5,505.52 177.9,506.08 178.3,506.61 178.7,507.11 179.1,507.6 179.5,508.06 179.9,508.48 180.3,508.87 180.7,509.25 181.1,509.62 181.5,509.99 181.9,510.37 182.3,510.78 182.7,511.21 183.1,511.67 183.5,512.15 183.9,512.64 184.3,513.15 184.7,513.67" fill="none" stroke="#111" stroke-width="1.2" stroke-linejoin="round"/>
<polyline points="79.5,512.58 79.94,512.51 80.37,512.45 80.81,512.38 81.25,512.3 81.69,512.22 82.12,512.13 82.56,512.04 83,511.95 83.44,511.85 83.87,511.74 84.31,511.62 84.75,511.5 85.18,511.37 85.62,511.24 86.06,511.09 86.5,510.94 86.93,510.78 87.37,510.61 87.81,510.43 88.24,510.23 88.68,510.03 89.12,509.82 89.56,509.59 89.99,509.35 90.43,509.1 90.87,508.83 91.31,508.55 91.74,508.25 92.18,507.94 92.62,507.62 93.05,507.27 93.49,506.91 93.93,506.53 94.37,506.13 94.8,505.71 95.24,505.27 95.68,504.81 96.12,504.33 96.55,503.83 96.99,503.31 97.43,502.76 97.86,502.18 98.3,501.59 98.74,500.97 99.18,500.32 99.61,499.65 100.05,498.95 100.49,498.22 100.92,497.47 101.36,496.68 101.8,495.87 102.24,495.04 102.67,494.17 103.11,493.27 103.55,492.35 103.99,491.39 104.42,490.41 104.86,489.4 105.3,488.36 105.73,487.28 106.17,486.18 106.61,485.06 107.05,483.9 107.48,482.72 107.92,481.5 108.36,480.27 108.79,479 109.23,477.71 109.67,476.4 110.11,475.06 110.54,473.7 110.98,472.32 111.42,470.91 111.86,469.49 112.29,468.05 112.73,466.6 113.17,465.13 113.6,463.65 114.04,462.15 114.48,460.65 114.92,459.13 115.35,457.61 115.79,456.09 116.23,454.57 116.67,453.04 117.1,451.52 117.54,450 117.98,448.49 118.41,446.99 118.85,445.5 119.29,444.03 119.73,442.57 120.16,441.13 120.6,439.72 121.04,438.32 121.47,436.96 121.91,435.63 122.35,434.33 122.79,433.06 123.22,431.83 123.66,430.65 124.1,429.5 124.54,428.41 124.97,427.36 125.41,426.36 125.85,425.42 126.28,424.53 126.72,423.7 127.16,422.93 127.6,422.22 128.03,421.58 128.47,421 128.91,420.49 129.35,420.05 129.78,419.68 130.22,419.38 130.66,419.15 131.09,419 131.53,418.91 131.97,418.91 132.41,418.97 132.84,419.11 133.28,419.32 133.72,419.6 134.15,419.96 134.59,420.38 135.03,420.88 135.47,421.44 135.9,422.07 136.34,422.76 136.78,423.52 137.22,424.33 137.65,425.21 138.09,426.14 138.53,427.12 138.96,428.16 139.4,429.25 139.84,430.38 140.28,431.56 140.71,432.78 141.15,434.03 141.59,435.33 142.03,436.65 142.46,438.01 142.9,439.4 143.34,440.81 143.77,442.24 144.21,443.69 144.65,445.16 145.09,446.65 145.52,448.15 145.96,449.66 146.4,451.17 146.83,452.69 147.27,454.22 147.71,455.74 148.15,457.27 148.58,458.79 149.02,460.3 149.46,461.81 149.9,463.3 150.33,464.79 150.77,466.26 151.21,467.72 151.64,469.17 152.08,470.59 152.52,472 152.96,473.38 153.39,474.75 153.83,476.09 154.27,477.41 154.71,478.71 155.14,479.98 155.58,481.22 156.02,482.44 156.45,483.63 156.89,484.79 157.33,485.93 157.77,487.04 158.2,488.11 158.64,489.16 159.08,490.18 159.51,491.17 159.95,492.13 160.39,493.06 160.83,493.97 161.26,494.84 161.7,495.69 162.14,496.5 162.58,497.29 163.01,498.05 163.45,498.78 163.89,499.49 164.32,500.17 164.76,500.82 165.2,501.45 165.64,502.05 166.07,502.63 166.51,503.18 166.95,503.71 167.38,504.22 167.82,504.71 168.26,505.17 168.7,505.61 169.13,506.04 169.57,506.44 170.01,506.82 170.45,507.19 170.88,507.54 171.32,507.87 171.76,508.18 172.19,508.48 172.63,508.77 173.07,509.04 173.51,509.29 173.94,509.54 174.38,509.76 174.82,509.98 175.26,510.19 175.69,510.38 176.13,510.57 176.57,510.74 177,510.9 177.44,511.06 177.88,511.21 178.32,511.34 178.75,511.47 179.19,511.6 179.63,511.71 180.06,511.82 180.5,511.93 180.94,512.02 181.38,512.11 181.81,512.2 182.25,512.28 182.69,512.36 183.13,512.43 183.56,512.5 184,512.56" fill="none" stroke="#c0c83c" stroke-width="1.5" stroke-linejoin="round"/>
<polyline points="79.5,514.5 79.94,514.5 80.37,514.5 80.81,514.5 81.25,514.5 81.69,514.5 82.12,514.5 82.56,514.5 83,514.5 83.44,514.5 83.87,514.5 84.31,514.5 84.75,514.5 85.18,514.5 85.62,514.5 86.06,514.5 86.5,514.5 86.93,514.5 87.37,514.5 87.81,514.5 88.24,514.5 88.68,514.5 89.12,514.5 89.56,514.5 89.99,514.5 90.43,514.5 90.87,514.5 91.31,514.5 91.74,514.5 92.18,514.5 92.62,514.5 93.05,514.5 93.49,514.5 93.93,514.5 94.37,514.5 94.8,514.5 95.24,514.5 95.68,514.5 96.12,514.5 96.55,514.5 96.99,514.5 97.43,514.5 97.86,514.5 98.3,514.5 98.74,514.5 99.18,514.5 99.61,514.5 100.05,514.5 100.49,514.5 100.92,514.5 101.36,514.5 101.8,514.5 102.24,514.5 102.67,514.5 103.11,514.5 103.55,514.5 103.99,514.5 104.42,514.5 104.86,514.5 105.3,514.5 105.73,514.5 106.17,514.5 106.61,514.5 107.05,514.5 107.48,514.5 107.92,514.5 108.36,514.5 108.79,514.5 109.23,514.5 109.67,514.5 110.11,514.5 110.54,514.5 110.98,514.5 111.42,514.5 111.86,514.5 112.29,514.5 112.73,514.5 113.17,514.5 113.6,514.5 114.04,514.5 114.48,514.5 114.92,514.5 115.35,514.5 115.79,514.5 116.23,514.5 116.67,514.5 117.1,514.5 117.54,514.5 117.98,514.5 118.41,514.5 118.85,514.5 119.29,514.5 119.73,514.5 120.16,514.5 120.6,514.5 121.04,514.5 121.47,514.5 121.91,514.5 122.35,514.5 122.79,514.5 123.22,514.5 123.66,514.5 124.1,514.5 124.54,514.5 124.97,514.5 125.41,514.5 125.85,514.5 126.28,514.5 126.72,514.5 127.16,514.5 127.6,514.5 128.03,514.5 128.47,514.5 128.91,514.5 129.35,514.5 129.78,514.5 130.22,514.5 130.66,514.5 131.09,514.5 131.53,514.5 131.97,514.5 132.41,514.5 132.84,514.5 133.28,514.5 133.72,514.5 134.15,514.5 134.59,514.5 135.03,514.5 135.47,514.5 135.9,514.5 136.34,514.5 136.78,514.5 137.22,514.5 137.65,514.5 138.09,514.5 138.53,514.5 138.96,514.5 139.4,514.5 139.84,514.5 140.28,514.5 140.71,514.49 141.15,514.49 141.59,514.48 142.03,514.47 142.46,514.45 142.9,514.42 143.34,514.37 143.77,514.3 144.21,514.19 144.65,514.03 145.09,513.8 145.52,513.47 145.96,513.02 146.4,512.41 146.83,511.59 147.27,510.53 147.71,509.18 148.15,507.49 148.58,505.43 149.02,502.95 149.46,500.07 149.9,496.77 150.33,493.1 150.77,489.12 151.21,484.92 151.64,480.63 152.08,476.39 152.52,472.37 152.96,468.73 153.39,465.65 153.83,463.26 154.27,461.69 154.71,461.02 155.14,461.29 155.58,462.47 156.02,464.52 156.45,467.31 156.89,470.73 157.33,474.61 157.77,478.77 158.2,483.06 158.64,487.32 159.08,491.4 159.51,495.22 159.95,498.68 160.39,501.75 160.83,504.4 161.26,506.64 161.7,508.49 162.14,509.99 162.58,511.17 163.01,512.08 163.45,512.78 163.89,513.29 164.32,513.67 164.76,513.94 165.2,514.13 165.64,514.26 166.07,514.34 166.51,514.4 166.95,514.44 167.38,514.46 167.82,514.48 168.26,514.49 168.7,514.49 169.13,514.5 169.57,514.5 170.01,514.5 170.45,514.5 170.88,514.5 171.32,514.5 171.76,514.5 172.19,514.5 172.63,514.5 173.07,514.5 173.51,514.5 173.94,514.5 174.38,514.5 174.82,514.5 175.26,514.5 175.69,514.5 176.13,514.5 176.57,514.5 177,514.5 177.44,514.5 177.88,514.5 178.32,514.5 178.75,514.5 179.19,514.5 179.63,514.5 180.06,514.5 180.5,514.5 180.94,514.5 181.38,514.5 181.81,514.5 182.25,514.5 182.69,514.5 183.13,514.5 183.56,514.5 184,514.5" fill="none" stroke="#3a3ab8" stroke-width="1.5" stroke-linejoin="round"/>
<polyline points="79.5,514.5 79.94,514.5 80.37,514.5 80.81,514.5 81.25,514.5 81.69,514.5 82.12,514.5 82.56,514.5 83,514.5 83.44,514.5 83.87,514.5 84.31,514.5 84.75,514.5 85.18,514.5 85.62,514.5 86.06,514.5 86.5,514.5 86.93,514.5 87.37,514.5 87.81,514.5 88.24,514.5 88.68,514.5 89.12,514.5 89.56,514.5 89.99,514.5 90.43,514.5 90.87,514.5 91.31,514.5 91.74,514.5 92.18,514.5 92.62,514.5 93.05,514.5 93.49,514.5 93.93,514.5 94.37,514.5 94.8,514.5 95.24,514.5 95.68,514.5 96.12,514.5 96.55,514.5 96.99,514.5 97.43,514.5 97.86,514.5 98.3,514.5 98.74,514.5 99.18,514.5 99.61,514.5 100.05,514.5 100.49,514.5 100.92,514.5 101.36,514.5 101.8,514.5 102.24,514.5 102.67,514.5 103.11,514.5 103.55,514.5 103.99,514.5 104.42,514.5 104.86,514.5 105.3,514.5 105.73,514.5 106.17,514.5 106.61,514.5 107.05,514.5 107.48,514.5 107.92,514.5 108.36,514.5 108.79,514.5 109.23,514.5 109.67,514.5 110.11,514.5 110.54,514.5 110.98,514.5 111.42,514.5 111.86,514.5 112.29,514.5 112.73,514.5 113.17,514.5 113.6,514.5 114.04,514.5 114.48,514.5 114.92,514.5 115.35,514.5 115.79,514.5 116.23,514.5 116.67,514.5 117.1,514.5 117.54,514.5 117.98,514.5 118.41,514.5 118.85,514.5 119.29,514.5 119.73,514.5 120.16,514.5 120.6,514.5 121.04,514.5 121.47,514.5 121.91,514.5 122.35,514.5 122.79,514.5 123.22,514.5 123.66,514.5 124.1,514.5 124.54,514.5 124.97,514.5 125.41,514.5 125.85,514.5 126.28,514.5 126.72,514.5 127.16,514.5 127.6,514.5 128.03,514.5 128.47,514.5 128.91,514.5 129.35,514.5 129.78,514.5 130.22,514.5 130.66,514.5 131.09,514.5 131.53,514.5 131.97,514.5 132.41,514.5 132.84,514.5 133.28,514.5 133.72,514.5 134.15,514.5 134.59,514.5 135.03,514.5 135.47,514.5 135.9,514.5 136.34,514.5 136.78,514.5 137.22,514.5 137.65,514.5 138.09,514.5 138.53,514.5 138.96,514.5 139.4,514.5 139.84,514.5 140.28,514.5 140.71,514.5 141.15,514.5 141.59,514.5 142.03,514.5 142.46,514.5 142.9,514.5 143.34,514.5 143.77,514.5 144.21,514.5 144.65,514.5 145.09,514.5 145.52,514.5 145.96,514.5 146.4,514.5 146.83,514.5 147.27,514.5 147.71,514.5 148.15,514.5 148.58,514.5 149.02,514.5 149.46,514.5 149.9,514.5 150.33,514.5 150.77,514.5 151.21,514.49 151.64,514.49 152.08,514.48 152.52,514.47 152.96,514.44 153.39,514.4 153.83,514.35 154.27,514.25 154.71,514.12 155.14,513.92 155.58,513.65 156.02,513.27 156.45,512.76 156.89,512.09 157.33,511.25 157.77,510.2 158.2,508.95 158.64,507.5 159.08,505.86 159.51,504.08 159.95,502.21 160.39,500.34 160.83,498.55 161.26,496.93 161.7,495.59 162.14,494.6 162.58,494.03 163.01,493.91 163.45,494.05 163.89,494.37 164.32,494.86 164.76,495.52 165.2,496.32 165.64,497.24 166.07,498.26 166.51,499.36 166.95,500.51 167.38,501.69 167.82,502.88 168.26,504.05 168.7,505.19 169.13,506.28 169.57,507.3 170.01,508.26 170.45,509.13 170.88,509.93 171.32,510.64 171.76,511.27 172.19,511.82 172.63,512.3 173.07,512.71 173.51,513.06 173.94,513.35 174.38,513.59 174.82,513.78 175.26,513.94 175.69,514.07 176.13,514.17 176.57,514.25 177,514.31 177.44,514.36 177.88,514.4 178.32,514.42 178.75,514.45 179.19,514.46 179.63,514.47 180.06,514.48 180.5,514.49 180.94,514.49 181.38,514.49 181.81,514.5 182.25,514.5 182.69,514.5 183.13,514.5 183.56,514.5 184,514.5" fill="none" stroke="#d03a48" stroke-width="1.5" stroke-linejoin="round"/>
<path d="M131.8,416.5 L131.8,412.8 L141.2,412.8" fill="none" stroke="#8a8a8a" stroke-width="1"/>
<text x="142" y="420.6" font-size="13.5" fill="#c0c83c" stroke="#c0c83c" stroke-width="0.3" text-anchor="start">Ta 4p</text>
<path d="M155.5,460.5 L156.1,458.3 L166.5,458.3" fill="none" stroke="#8a8a8a" stroke-width="1"/>
<text x="167.6" y="463" font-size="13.5" fill="#3535c8" stroke="#3535c8" stroke-width="0.3" text-anchor="start">N-Hf</text>
<path d="M163.5,492 L163.75,488.5 L175,488.5" fill="none" stroke="#8a8a8a" stroke-width="1"/>
<text x="178" y="493.1" font-size="13.5" fill="#d03a48" stroke="#d03a48" stroke-width="0.3" text-anchor="start">N-Ta</text>
<rect x="325" y="401.5" width="185.5" height="138" fill="none" stroke="#5e5e5e" stroke-width="1.2"/>
<line x1="325" y1="401.5" x2="325" y2="404" stroke="#5e5e5e" stroke-width="1.1"/>
<line x1="325" y1="539.5" x2="325" y2="537" stroke="#5e5e5e" stroke-width="1.1"/>
<text x="325" y="552.2" font-size="11.5" fill="#1a1a1a" stroke="#1a1a1a" stroke-width="0.3" text-anchor="middle">415</text>
<line x1="355.92" y1="401.5" x2="355.92" y2="404" stroke="#5e5e5e" stroke-width="1.1"/>
<line x1="355.92" y1="539.5" x2="355.92" y2="537" stroke="#5e5e5e" stroke-width="1.1"/>
<text x="355.92" y="552.2" font-size="11.5" fill="#1a1a1a" stroke="#1a1a1a" stroke-width="0.3" text-anchor="middle">410</text>
<line x1="386.83" y1="401.5" x2="386.83" y2="404" stroke="#5e5e5e" stroke-width="1.1"/>
<line x1="386.83" y1="539.5" x2="386.83" y2="537" stroke="#5e5e5e" stroke-width="1.1"/>
<text x="386.83" y="552.2" font-size="11.5" fill="#1a1a1a" stroke="#1a1a1a" stroke-width="0.3" text-anchor="middle">405</text>
<line x1="417.75" y1="401.5" x2="417.75" y2="404" stroke="#5e5e5e" stroke-width="1.1"/>
<line x1="417.75" y1="539.5" x2="417.75" y2="537" stroke="#5e5e5e" stroke-width="1.1"/>
<text x="417.75" y="552.2" font-size="11.5" fill="#1a1a1a" stroke="#1a1a1a" stroke-width="0.3" text-anchor="middle">400</text>
<line x1="448.67" y1="401.5" x2="448.67" y2="404" stroke="#5e5e5e" stroke-width="1.1"/>
<line x1="448.67" y1="539.5" x2="448.67" y2="537" stroke="#5e5e5e" stroke-width="1.1"/>
<text x="448.67" y="552.2" font-size="11.5" fill="#1a1a1a" stroke="#1a1a1a" stroke-width="0.3" text-anchor="middle">395</text>
<line x1="479.58" y1="401.5" x2="479.58" y2="404" stroke="#5e5e5e" stroke-width="1.1"/>
<line x1="479.58" y1="539.5" x2="479.58" y2="537" stroke="#5e5e5e" stroke-width="1.1"/>
<text x="479.58" y="552.2" font-size="11.5" fill="#1a1a1a" stroke="#1a1a1a" stroke-width="0.3" text-anchor="middle">390</text>
<line x1="510.5" y1="401.5" x2="510.5" y2="404" stroke="#5e5e5e" stroke-width="1.1"/>
<line x1="510.5" y1="539.5" x2="510.5" y2="537" stroke="#5e5e5e" stroke-width="1.1"/>
<text x="510.5" y="552.2" font-size="11.5" fill="#1a1a1a" stroke="#1a1a1a" stroke-width="0.3" text-anchor="middle">385</text>
<text x="417.75" y="567.5" font-size="15.6" fill="#1a1a1a" stroke="#1a1a1a" stroke-width="0.3" text-anchor="middle">Binding Energy (eV)</text>
<text transform="translate(316,469.3) rotate(-90) scale(1,1.08)" font-size="15.65" fill="#1a1a1a" stroke="#1a1a1a" stroke-width="0.3" text-anchor="middle">XPS Intensity (A.U.)</text>
<text x="278.5" y="563.5" font-size="21" fill="#111" stroke="#111" stroke-width="0.3" text-anchor="start">(f)</text>
<text x="331.6" y="417.1" font-size="13.5" fill="#111" stroke="#111" stroke-width="0.3" text-anchor="start">N 1s</text>
<circle cx="365.67" cy="518.74" r="2.3"/>
<circle cx="365.07" cy="514.35" r="2.3"/>
<circle cx="365.46" cy="515.64" r="2.3"/>
<circle cx="364.12" cy="514.45" r="2.3"/>
<circle cx="367.25" cy="514.27" r="2.3"/>
<circle cx="365.42" cy="510.44" r="2.3"/>
<circle cx="368.33" cy="514.83" r="2.3"/>
<circle cx="365.29" cy="511.13" r="2.3"/>
<circle cx="366.03" cy="507.84" r="2.3"/>
<circle cx="368.64" cy="506.07" r="2.3"/>
<circle cx="367.76" cy="507.81" r="2.3"/>
<circle cx="371.01" cy="507.33" r="2.3"/>
<circle cx="371.04" cy="505.38" r="2.3"/>
<circle cx="369.66" cy="505.98" r="2.3"/>
<circle cx="372.17" cy="503.77" r="2.3"/>
<circle cx="372.11" cy="505.02" r="2.3"/>
<circle cx="375.09" cy="501.81" r="2.3"/>
<circle cx="373" cy="502.13" r="2.3"/>
<circle cx="374.05" cy="503.04" r="2.3"/>
<circle cx="377.75" cy="505" r="2.3"/>
<circle cx="380.35" cy="497.67" r="2.3"/>
<circle cx="380.69" cy="497.77" r="2.3"/>
<circle cx="377.97" cy="496.21" r="2.3"/>
<circle cx="378.98" cy="498.2" r="2.3"/>
<circle cx="382.01" cy="493.75" r="2.3"/>
<circle cx="379.64" cy="493.93" r="2.3"/>
<circle cx="378.66" cy="493.7" r="2.3"/>
<circle cx="381.16" cy="490.93" r="2.3"/>
<circle cx="382.27" cy="489.89" r="2.3"/>
<circle cx="380.47" cy="489.66" r="2.3"/>
<circle cx="379.49" cy="485.65" r="2.3"/>
<circle cx="380.36" cy="485.73" r="2.3"/>
<circle cx="384.62" cy="486.48" r="2.3"/>
<circle cx="382.52" cy="486.37" r="2.3"/>
<circle cx="384.08" cy="484.65" r="2.3"/>
<circle cx="385.15" cy="480.66" r="2.3"/>
<circle cx="386.32" cy="481.88" r="2.3"/>
<circle cx="385.05" cy="483.02" r="2.3"/>
<circle cx="387" cy="481.45" r="2.3"/>
<circle cx="384.98" cy="479.18" r="2.3"/>
<circle cx="386.43" cy="476.61" r="2.3"/>
<circle cx="385.78" cy="478.24" r="2.3"/>
<circle cx="390.24" cy="474.97" r="2.3"/>
<circle cx="388.73" cy="472.82" r="2.3"/>
<circle cx="388" cy="472.37" r="2.3"/>
<circle cx="389.21" cy="475.3" r="2.3"/>
<circle cx="389.92" cy="471.94" r="2.3"/>
<circle cx="392.03" cy="472.47" r="2.3"/>
<circle cx="388.33" cy="468.34" r="2.3"/>
<circle cx="389.76" cy="469.72" r="2.3"/>
<circle cx="391.38" cy="465.77" r="2.3"/>
<circle cx="397.04" cy="465.39" r="2.3"/>
<circle cx="394.65" cy="468.97" r="2.3"/>
<circle cx="393.17" cy="464.69" r="2.3"/>
<circle cx="395.1" cy="461.23" r="2.3"/>
<circle cx="397.97" cy="460.79" r="2.3"/>
<circle cx="394.29" cy="460.35" r="2.3"/>
<circle cx="394.5" cy="460.75" r="2.3"/>
<circle cx="397.79" cy="456.5" r="2.3"/>
<circle cx="396.94" cy="453.05" r="2.3"/>
<circle cx="397.69" cy="454.48" r="2.3"/>
<circle cx="396" cy="453.8" r="2.3"/>
<circle cx="400.82" cy="452.77" r="2.3"/>
<circle cx="400.89" cy="453.74" r="2.3"/>
<circle cx="399.31" cy="450.75" r="2.3"/>
<circle cx="400.05" cy="450.46" r="2.3"/>
<circle cx="395.74" cy="445.85" r="2.3"/>
<circle cx="401.14" cy="448.25" r="2.3"/>
<circle cx="400.26" cy="449.2" r="2.3"/>
<circle cx="401.95" cy="445.6" r="2.3"/>
<circle cx="402.94" cy="443.35" r="2.3"/>
<circle cx="401.9" cy="441.73" r="2.3"/>
<circle cx="400.48" cy="442.67" r="2.3"/>
<circle cx="404.24" cy="436.95" r="2.3"/>
<circle cx="403.31" cy="436.42" r="2.3"/>
<circle cx="404.51" cy="435.34" r="2.3"/>
<circle cx="404.8" cy="433.73" r="2.3"/>
<circle cx="406.14" cy="430.34" r="2.3"/>
<circle cx="405.45" cy="429.41" r="2.3"/>
<circle cx="411.37" cy="428.35" r="2.3"/>
<circle cx="413.13" cy="429.59" r="2.3"/>
<circle cx="415.92" cy="431.3" r="2.3"/>
<circle cx="418.6" cy="432.45" r="2.3"/>
<circle cx="418.01" cy="435.99" r="2.3"/>
<circle cx="417.42" cy="439.39" r="2.3"/>
<circle cx="419.54" cy="440.21" r="2.3"/>
<circle cx="420.51" cy="443.37" r="2.3"/>
<circle cx="422.14" cy="446.8" r="2.3"/>
<circle cx="423.61" cy="447.87" r="2.3"/>
<circle cx="422.72" cy="451.62" r="2.3"/>
<circle cx="425.86" cy="453.11" r="2.3"/>
<circle cx="425.35" cy="457.63" r="2.3"/>
<circle cx="428.27" cy="461.17" r="2.3"/>
<circle cx="429.34" cy="461.43" r="2.3"/>
<circle cx="429.69" cy="456.67" r="2.3"/>
<circle cx="430.39" cy="454.77" r="2.3"/>
<circle cx="430.38" cy="451.44" r="2.3"/>
<circle cx="430.68" cy="448.65" r="2.3"/>
<circle cx="430.08" cy="447.17" r="2.3"/>
<circle cx="431.97" cy="441.82" r="2.3"/>
<circle cx="434.08" cy="441.19" r="2.3"/>
<circle cx="434.62" cy="437.43" r="2.3"/>
<circle cx="434.4" cy="435.97" r="2.3"/>
<circle cx="434.16" cy="432.09" r="2.3"/>
<circle cx="433.22" cy="428.53" r="2.3"/>
<circle cx="435.46" cy="426.6" r="2.3"/>
<circle cx="434.58" cy="424.26" r="2.3"/>
<circle cx="435.13" cy="420.88" r="2.3"/>
<circle cx="436.33" cy="420.87" r="2.3"/>
<circle cx="437.7" cy="422.57" r="2.3"/>
<circle cx="438.16" cy="423.75" r="2.3"/>
<circle cx="439.29" cy="429.16" r="2.3"/>
<circle cx="439.18" cy="431.67" r="2.3"/>
<circle cx="440.26" cy="433.93" r="2.3"/>
<circle cx="442.85" cy="436.65" r="2.3"/>
<circle cx="440.91" cy="440.32" r="2.3"/>
<circle cx="441.02" cy="441.76" r="2.3"/>
<circle cx="442.09" cy="444.31" r="2.3"/>
<circle cx="442.62" cy="447.55" r="2.3"/>
<circle cx="441.34" cy="451.57" r="2.3"/>
<circle cx="442.53" cy="452.03" r="2.3"/>
<circle cx="443.91" cy="457.12" r="2.3"/>
<circle cx="443.59" cy="458.26" r="2.3"/>
<circle cx="443.66" cy="460.64" r="2.3"/>
<circle cx="445.14" cy="465.56" r="2.3"/>
<circle cx="443.35" cy="467.13" r="2.3"/>
<circle cx="444.26" cy="468.81" r="2.3"/>
<circle cx="443.95" cy="472.41" r="2.3"/>
<circle cx="446.19" cy="476.31" r="2.3"/>
<circle cx="443.14" cy="479.17" r="2.3"/>
<circle cx="444.76" cy="480.03" r="2.3"/>
<circle cx="445.29" cy="483.28" r="2.3"/>
<circle cx="447.08" cy="485.89" r="2.3"/>
<circle cx="447.67" cy="486.44" r="2.3"/>
<circle cx="449.36" cy="489.51" r="2.3"/>
<circle cx="446.26" cy="490.75" r="2.3"/>
<circle cx="449.76" cy="491.67" r="2.3"/>
<circle cx="448.83" cy="493.17" r="2.3"/>
<circle cx="448.74" cy="495.27" r="2.3"/>
<circle cx="450.89" cy="496.43" r="2.3"/>
<circle cx="449.23" cy="496.65" r="2.3"/>
<circle cx="447.93" cy="497.93" r="2.3"/>
<circle cx="451.05" cy="501.39" r="2.3"/>
<circle cx="449.81" cy="501.04" r="2.3"/>
<circle cx="451.76" cy="503.16" r="2.3"/>
<circle cx="454" cy="504.7" r="2.3"/>
<circle cx="454.49" cy="504.77" r="2.3"/>
<circle cx="457.12" cy="508.51" r="2.3"/>
<circle cx="454.85" cy="504.59" r="2.3"/>
<circle cx="453.35" cy="508.23" r="2.3"/>
<circle cx="455.3" cy="507.4" r="2.3"/>
<circle cx="455.89" cy="511.71" r="2.3"/>
<circle cx="456.43" cy="512.1" r="2.3"/>
<circle cx="460.16" cy="506.77" r="2.3"/>
<circle cx="459.53" cy="508.81" r="2.3"/>
<circle cx="458.49" cy="511.94" r="2.3"/>
<circle cx="463.82" cy="512.7" r="2.3"/>
<circle cx="463.59" cy="513.18" r="2.3"/>
<circle cx="465.43" cy="512.39" r="2.3"/>
<circle cx="466.17" cy="513.61" r="2.3"/>
<circle cx="468.17" cy="514.21" r="2.3"/>
<circle cx="468.39" cy="513.3" r="2.3"/>
<circle cx="471.47" cy="515.37" r="2.3"/>
<circle cx="471.32" cy="510.47" r="2.3"/>
<circle cx="472.4" cy="515.49" r="2.3"/>
<polyline points="363.8,518 364.2,516.92 364.6,515.86 365,514.85 365.4,513.89 365.8,513 366.2,512.19 366.6,511.46 367,510.83 367.4,510.26 367.8,509.73 368.2,509.23 368.6,508.77 369,508.33 369.4,507.91 369.8,507.49 370.2,507.07 370.6,506.64 371,506.19 371.4,505.72 371.8,505.23 372.2,504.72 372.6,504.2 373,503.68 373.4,503.16 373.8,502.64 374.2,502.11 374.6,501.59 375,501.08 375.4,500.57 375.8,500.09 376.2,499.63 376.6,499.17 377,498.72 377.4,498.26 377.8,497.79 378.2,497.29 378.6,496.77 379,496.2 379.4,495.59 379.8,494.91 380.2,494.18 380.6,493.4 381,492.59 381.4,491.74 381.8,490.87 382.2,489.98 382.6,489.09 383,488.2 383.4,487.28 383.8,486.32 384.2,485.32 384.6,484.29 385,483.26 385.4,482.23 385.8,481.21 386.2,480.22 386.6,479.28 387,478.38 387.4,477.55 387.8,476.77 388.2,476.01 388.6,475.26 389,474.49 389.4,473.67 389.8,472.8 390.2,471.85 390.6,470.83 391,469.77 391.4,468.67 391.8,467.56 392.2,466.45 392.6,465.37 393,464.3 393.4,463.24 393.8,462.18 394.2,461.12 394.6,460.06 395,458.99 395.4,457.93 395.8,456.86 396.2,455.77 396.6,454.66 397,453.55 397.4,452.46 397.8,451.41 398.2,450.41 398.6,449.47 399,448.62 399.4,447.82 399.8,447.06 400.2,446.3 400.6,445.54 401,444.75 401.4,443.9 401.8,443 402.2,442.06 402.6,441.09 403,440.1 403.4,439.08 403.8,438.05 404.2,437 404.6,435.84 405,434.56 405.4,433.3 405.8,432.2 406.2,431.4 406.6,430.8 407,430.22 407.4,429.7 407.8,429.24 408.2,428.87 408.6,428.62 409,428.51 409.4,428.51 409.8,428.54 410.2,428.59 410.6,428.66 411,428.74 411.4,428.84 411.8,428.94 412.2,429.07 412.6,429.28 413,429.56 413.4,429.9 413.8,430.29 414.2,430.69 414.6,431.1 415,431.5 415.4,431.88 415.8,432.27 416.2,432.69 416.6,433.18 417,433.76 417.4,434.55 417.8,435.53 418.2,436.58 418.6,437.61 419,438.51 419.4,439.32 419.8,440.08 420.2,440.81 420.6,441.55 421,442.32 421.4,443.15 421.8,444.07 422.2,445.11 422.6,446.21 423,447.35 423.4,448.46 423.8,449.53 424.2,450.6 424.6,451.66 425,452.7 425.4,453.7 425.8,454.63 426.2,455.52 426.6,456.38 427,457.19 427.4,457.96 427.8,458.68 428.2,459.49 428.6,460.2 429,460.5 429.4,459.74 429.8,457.87 430.2,455.54 430.6,453.2 431,450.33 431.4,447.22 431.8,444.31 432.2,441.67 432.6,439.08 433,436.33 433.4,433.1 433.8,429.38 434.2,426.04 434.6,423.74 435,421.69 435.4,420.12 435.8,419.5 436.2,419.76 436.6,420.44 437,421.38 437.4,422.45 437.8,423.5 438.2,424.58 438.6,425.82 439,427.16 439.4,428.44 439.8,429.66 440.2,431.23 440.6,433.81 441,439.81 441.4,443.48 441.8,446.3 442.2,449.38 442.6,452.44 443,455.34 443.4,459.52 443.8,465.2 444.2,470.17 444.6,474.16 445,477.37 445.4,480.19 445.8,482.57 446.2,484.5 446.6,486.02 447,487.28 447.4,488.39 447.8,489.46 448.2,490.6 448.6,491.85 449,493.12 449.4,494.38 449.8,495.56 450.2,496.6 450.6,497.52 451,498.38 451.4,499.19 451.8,499.96 452.2,500.69 452.6,501.39 453,502.09 453.4,502.77 453.8,503.48 454.2,504.2 454.6,504.91 455,505.62 455.4,506.3 455.8,506.93 456.2,507.51 456.6,508.02 457,508.44 457.4,508.77 457.8,509.05 458.2,509.29 458.6,509.5 459,509.69 459.4,509.87 459.8,510.04 460.2,510.21 460.6,510.38 461,510.56 461.4,510.75 461.8,510.95 462.2,511.17 462.6,511.38 463,511.6 463.4,511.81 463.8,512.02 464.2,512.21 464.6,512.39 465,512.56 465.4,512.7 465.8,512.82 466.2,512.94 466.6,513.04 467,513.13 467.4,513.22 467.8,513.31 468.2,513.4 468.6,513.49 469,513.59 469.4,513.7 469.8,513.82 470.2,513.94 470.6,514.07 471,514.2 471.4,514.34 471.8,514.48 472.2,514.63" fill="none" stroke="#111" stroke-width="1.2" stroke-linejoin="round"/>
<polyline points="364,514.5 364.45,514.31 364.9,514.12 365.34,513.91 365.79,513.7 366.24,513.47 366.69,513.23 367.13,512.98 367.58,512.71 368.03,512.43 368.48,512.14 368.92,511.83 369.37,511.51 369.82,511.17 370.27,510.81 370.72,510.44 371.16,510.05 371.61,509.65 372.06,509.22 372.51,508.77 372.95,508.31 373.4,507.83 373.85,507.32 374.3,506.79 374.74,506.25 375.19,505.67 375.64,505.08 376.09,504.47 376.54,503.83 376.98,503.16 377.43,502.48 377.88,501.76 378.33,501.03 378.77,500.26 379.22,499.48 379.67,498.66 380.12,497.83 380.56,496.96 381.01,496.07 381.46,495.16 381.91,494.22 382.36,493.25 382.8,492.26 383.25,491.24 383.7,490.2 384.15,489.13 384.59,488.04 385.04,486.93 385.49,485.79 385.94,484.63 386.38,483.45 386.83,482.25 387.28,481.03 387.73,479.79 388.18,478.53 388.62,477.25 389.07,475.96 389.52,474.65 389.97,473.33 390.41,472 390.86,470.66 391.31,469.31 391.76,467.95 392.21,466.58 392.65,465.21 393.1,463.84 393.55,462.47 394,461.1 394.44,459.74 394.89,458.37 395.34,457.02 395.79,455.68 396.23,454.35 396.68,453.03 397.13,451.73 397.58,450.44 398.03,449.18 398.47,447.95 398.92,446.73 399.37,445.55 399.82,444.4 400.26,443.28 400.71,442.19 401.16,441.15 401.61,440.14 402.05,439.18 402.5,438.26 402.95,437.39 403.4,436.57 403.85,435.8 404.29,435.09 404.74,434.42 405.19,433.82 405.64,433.28 406.08,432.79 406.53,432.37 406.98,432.01 407.43,431.72 407.87,431.49 408.32,431.33 408.77,431.23 409.22,431.2 409.67,431.24 410.11,431.34 410.56,431.51 411.01,431.74 411.46,432.04 411.9,432.4 412.35,432.83 412.8,433.32 413.25,433.87 413.69,434.47 414.14,435.14 414.59,435.86 415.04,436.63 415.49,437.46 415.93,438.33 416.38,439.25 416.83,440.22 417.28,441.23 417.72,442.28 418.17,443.36 418.62,444.49 419.07,445.64 419.51,446.83 419.96,448.04 420.41,449.28 420.86,450.54 421.31,451.83 421.75,453.13 422.2,454.45 422.65,455.78 423.1,457.13 423.54,458.48 423.99,459.84 424.44,461.21 424.89,462.58 425.33,463.95 425.78,465.32 426.23,466.69 426.68,468.05 427.13,469.41 427.57,470.76 428.02,472.11 428.47,473.44 428.92,474.75 429.36,476.06 429.81,477.35 430.26,478.63 430.71,479.88 431.15,481.12 431.6,482.34 432.05,483.54 432.5,484.72 432.95,485.88 433.39,487.02 433.84,488.13 434.29,489.22 434.74,490.28 435.18,491.32 435.63,492.34 436.08,493.33 436.53,494.29 436.97,495.23 437.42,496.14 437.87,497.03 438.32,497.89 438.77,498.73 439.21,499.54 439.66,500.33 440.11,501.09 440.56,501.82 441,502.53 441.45,503.22 441.9,503.88 442.35,504.52 442.79,505.13 443.24,505.72 443.69,506.29 444.14,506.84 444.59,507.36 445.03,507.86 445.48,508.35 445.93,508.81 446.38,509.25 446.82,509.68 447.27,510.08 447.72,510.47 448.17,510.84 448.62,511.2 449.06,511.53 449.51,511.86 449.96,512.16 450.41,512.45 450.85,512.73 451.3,513 451.75,513.25 452.2,513.49 452.64,513.71 453.09,513.93 453.54,514.13 453.99,514.33 454.44,514.51 454.88,514.69 455.33,514.85 455.78,515.01 456.23,515.16 456.67,515.3 457.12,515.43 457.57,515.56 458.02,515.68 458.46,515.79 458.91,515.9 459.36,516 459.81,516.09 460.26,516.18 460.7,516.27 461.15,516.35 461.6,516.42 462.05,516.5 462.49,516.56 462.94,516.63 463.39,516.69 463.84,516.75 464.28,516.8 464.73,516.86 465.18,516.91 465.63,516.95 466.08,517 466.52,517.04 466.97,517.08 467.42,517.12 467.87,517.16 468.31,517.19 468.76,517.22 469.21,517.26 469.66,517.29 470.1,517.31 470.55,517.34 471,517.37" fill="none" stroke="#c0c83c" stroke-width="1.5" stroke-linejoin="round"/>
<polyline points="364,518.8 364.45,518.8 364.9,518.8 365.34,518.8 365.79,518.8 366.24,518.8 366.69,518.8 367.13,518.8 367.58,518.8 368.03,518.8 368.48,518.8 368.92,518.8 369.37,518.8 369.82,518.8 370.27,518.8 370.72,518.8 371.16,518.8 371.61,518.8 372.06,518.8 372.51,518.8 372.95,518.8 373.4,518.8 373.85,518.8 374.3,518.8 374.74,518.8 375.19,518.8 375.64,518.8 376.09,518.8 376.54,518.8 376.98,518.8 377.43,518.8 377.88,518.8 378.33,518.8 378.77,518.8 379.22,518.8 379.67,518.8 380.12,518.8 380.56,518.8 381.01,518.8 381.46,518.8 381.91,518.8 382.36,518.8 382.8,518.8 383.25,518.8 383.7,518.8 384.15,518.8 384.59,518.8 385.04,518.8 385.49,518.8 385.94,518.8 386.38,518.8 386.83,518.8 387.28,518.8 387.73,518.8 388.18,518.8 388.62,518.8 389.07,518.8 389.52,518.8 389.97,518.8 390.41,518.8 390.86,518.8 391.31,518.8 391.76,518.8 392.21,518.8 392.65,518.8 393.1,518.8 393.55,518.8 394,518.8 394.44,518.8 394.89,518.8 395.34,518.8 395.79,518.8 396.23,518.8 396.68,518.8 397.13,518.8 397.58,518.8 398.03,518.8 398.47,518.8 398.92,518.8 399.37,518.8 399.82,518.8 400.26,518.8 400.71,518.8 401.16,518.8 401.61,518.8 402.05,518.8 402.5,518.8 402.95,518.8 403.4,518.8 403.85,518.8 404.29,518.8 404.74,518.8 405.19,518.8 405.64,518.8 406.08,518.8 406.53,518.8 406.98,518.8 407.43,518.8 407.87,518.8 408.32,518.8 408.77,518.8 409.22,518.8 409.67,518.8 410.11,518.8 410.56,518.8 411.01,518.8 411.46,518.8 411.9,518.8 412.35,518.8 412.8,518.8 413.25,518.8 413.69,518.8 414.14,518.8 414.59,518.8 415.04,518.8 415.49,518.8 415.93,518.8 416.38,518.8 416.83,518.8 417.28,518.8 417.72,518.8 418.17,518.8 418.62,518.8 419.07,518.8 419.51,518.8 419.96,518.8 420.41,518.8 420.86,518.8 421.31,518.8 421.75,518.79 422.2,518.79 422.65,518.78 423.1,518.77 423.54,518.76 423.99,518.74 424.44,518.71 424.89,518.66 425.33,518.6 425.78,518.52 426.23,518.4 426.68,518.24 427.13,518.03 427.57,517.75 428.02,517.39 428.47,516.91 428.92,516.31 429.36,515.56 429.81,514.62 430.26,513.47 430.71,512.08 431.15,510.43 431.6,508.49 432.05,506.24 432.5,503.67 432.95,500.79 433.39,497.59 433.84,494.11 434.29,490.39 434.74,486.48 435.18,482.44 435.63,478.35 436.08,474.32 436.53,470.44 436.97,466.81 437.42,463.55 437.87,460.74 438.32,458.48 438.77,456.83 439.21,455.87 439.66,455.6 440.11,455.84 440.56,456.45 441,457.43 441.45,458.74 441.9,460.38 442.35,462.31 442.79,464.5 443.24,466.91 443.69,469.51 444.14,472.26 444.59,475.12 445.03,478.05 445.48,481 445.93,483.95 446.38,486.86 446.82,489.7 447.27,492.45 447.72,495.08 448.17,497.57 448.62,499.92 449.06,502.1 449.51,504.12 449.96,505.97 450.41,507.66 450.85,509.18 451.3,510.54 451.75,511.75 452.2,512.82 452.64,513.76 453.09,514.58 453.54,515.28 453.99,515.89 454.44,516.4 454.88,516.84 455.33,517.2 455.78,517.51 456.23,517.76 456.67,517.97 457.12,518.14 457.57,518.28 458.02,518.39 458.46,518.48 458.91,518.55 459.36,518.61 459.81,518.65 460.26,518.69 460.7,518.72 461.15,518.74 461.6,518.75 462.05,518.76 462.49,518.77 462.94,518.78 463.39,518.79 463.84,518.79 464.28,518.79 464.73,518.79 465.18,518.8 465.63,518.8 466.08,518.8 466.52,518.8 466.97,518.8 467.42,518.8 467.87,518.8 468.31,518.8 468.76,518.8 469.21,518.8 469.66,518.8 470.1,518.8 470.55,518.8 471,518.8" fill="none" stroke="#d03a48" stroke-width="1.5" stroke-linejoin="round"/>
<polyline points="364,518.8 364.45,518.8 364.9,518.8 365.34,518.8 365.79,518.8 366.24,518.8 366.69,518.8 367.13,518.8 367.58,518.8 368.03,518.8 368.48,518.8 368.92,518.8 369.37,518.8 369.82,518.8 370.27,518.8 370.72,518.8 371.16,518.8 371.61,518.8 372.06,518.8 372.51,518.8 372.95,518.8 373.4,518.8 373.85,518.8 374.3,518.8 374.74,518.8 375.19,518.8 375.64,518.8 376.09,518.8 376.54,518.8 376.98,518.8 377.43,518.8 377.88,518.8 378.33,518.8 378.77,518.8 379.22,518.8 379.67,518.8 380.12,518.8 380.56,518.8 381.01,518.8 381.46,518.8 381.91,518.8 382.36,518.8 382.8,518.8 383.25,518.8 383.7,518.8 384.15,518.8 384.59,518.8 385.04,518.8 385.49,518.8 385.94,518.8 386.38,518.8 386.83,518.8 387.28,518.8 387.73,518.8 388.18,518.8 388.62,518.8 389.07,518.8 389.52,518.8 389.97,518.8 390.41,518.8 390.86,518.8 391.31,518.8 391.76,518.8 392.21,518.8 392.65,518.8 393.1,518.8 393.55,518.8 394,518.8 394.44,518.8 394.89,518.8 395.34,518.8 395.79,518.8 396.23,518.8 396.68,518.8 397.13,518.8 397.58,518.8 398.03,518.8 398.47,518.8 398.92,518.8 399.37,518.8 399.82,518.8 400.26,518.8 400.71,518.8 401.16,518.8 401.61,518.8 402.05,518.8 402.5,518.8 402.95,518.8 403.4,518.8 403.85,518.8 404.29,518.8 404.74,518.8 405.19,518.8 405.64,518.8 406.08,518.8 406.53,518.8 406.98,518.8 407.43,518.8 407.87,518.8 408.32,518.8 408.77,518.8 409.22,518.8 409.67,518.8 410.11,518.8 410.56,518.8 411.01,518.8 411.46,518.8 411.9,518.8 412.35,518.8 412.8,518.8 413.25,518.8 413.69,518.8 414.14,518.8 414.59,518.8 415.04,518.8 415.49,518.8 415.93,518.8 416.38,518.8 416.83,518.8 417.28,518.8 417.72,518.8 418.17,518.8 418.62,518.8 419.07,518.8 419.51,518.8 419.96,518.8 420.41,518.8 420.86,518.8 421.31,518.79 421.75,518.79 422.2,518.78 422.65,518.76 423.1,518.74 423.54,518.7 423.99,518.65 424.44,518.57 424.89,518.46 425.33,518.3 425.78,518.08 426.23,517.79 426.68,517.41 427.13,516.92 427.57,516.3 428.02,515.53 428.47,514.6 428.92,513.51 429.36,512.27 429.81,510.87 430.26,509.35 430.71,507.74 431.15,506.1 431.6,504.48 432.05,502.95 432.5,501.57 432.95,500.42 433.39,499.54 433.84,498.99 434.29,498.8 434.74,498.97 435.18,499.51 435.63,500.36 436.08,501.51 436.53,502.87 436.97,504.4 437.42,506.02 437.87,507.66 438.32,509.27 438.77,510.79 439.21,512.2 439.66,513.46 440.11,514.55 440.56,515.48 441,516.26 441.45,516.89 441.9,517.39 442.35,517.78 442.79,518.07 443.24,518.29 443.69,518.45 444.14,518.56 444.59,518.64 445.03,518.7 445.48,518.74 445.93,518.76 446.38,518.78 446.82,518.79 447.27,518.79 447.72,518.79 448.17,518.8 448.62,518.8 449.06,518.8 449.51,518.8 449.96,518.8 450.41,518.8 450.85,518.8 451.3,518.8 451.75,518.8 452.2,518.8 452.64,518.8 453.09,518.8 453.54,518.8 453.99,518.8 454.44,518.8 454.88,518.8 455.33,518.8 455.78,518.8 456.23,518.8 456.67,518.8 457.12,518.8 457.57,518.8 458.02,518.8 458.46,518.8 458.91,518.8 459.36,518.8 459.81,518.8 460.26,518.8 460.7,518.8 461.15,518.8 461.6,518.8 462.05,518.8 462.49,518.8 462.94,518.8 463.39,518.8 463.84,518.8 464.28,518.8 464.73,518.8 465.18,518.8 465.63,518.8 466.08,518.8 466.52,518.8 466.97,518.8 467.42,518.8 467.87,518.8 468.31,518.8 468.76,518.8 469.21,518.8 469.66,518.8 470.1,518.8 470.55,518.8 471,518.8" fill="none" stroke="#3a3ab8" stroke-width="1.5" stroke-linejoin="round"/>
<path d="M409.3,431 L409,427.2 L400.8,427.2" fill="none" stroke="#8a8a8a" stroke-width="1"/>
<text x="365.8" y="430.1" font-size="13.5" fill="#c0c83c" stroke="#c0c83c" stroke-width="0.3" text-anchor="start">Ta 4p</text>
<path d="M440.2,455 L440.2,451.5 L448.5,451.5" fill="none" stroke="#8a8a8a" stroke-width="1"/>
<text x="451.5" y="456.4" font-size="13.5" fill="#d03a48" stroke="#d03a48" stroke-width="0.3" text-anchor="start">N-Ta</text>
<path d="M433.8,498 L433.5,494.2 L424.6,494.2" fill="none" stroke="#8a8a8a" stroke-width="1"/>
<text x="395.4" y="498" font-size="13.5" fill="#3535c8" stroke="#3535c8" stroke-width="0.3" text-anchor="start">N-Hf</text>
</svg>
</body></html>
